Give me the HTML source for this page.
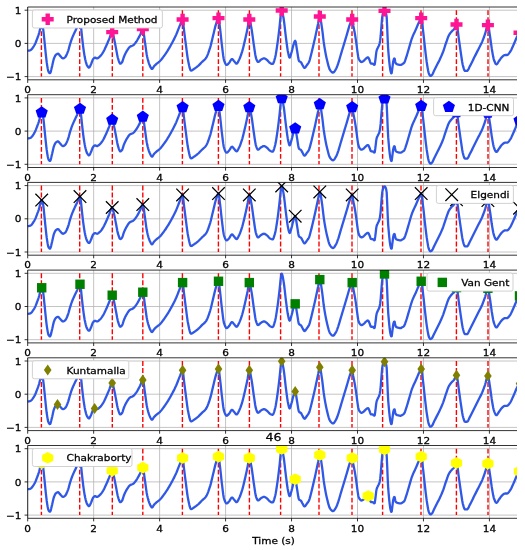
<!DOCTYPE html>
<html><head><meta charset="utf-8"><title>46</title>
<style>html,body{margin:0;padding:0;background:#fff;}svg{display:block;filter:blur(0.35px);}</style>
</head><body>
<svg width="525" height="550" viewBox="0 0 525 550"><defs>
<clipPath id="c0"><rect x="27.70" y="7.00" width="489.30" height="72.80"/></clipPath>
<clipPath id="c1"><rect x="27.70" y="94.70" width="489.30" height="72.80"/></clipPath>
<clipPath id="c2"><rect x="27.70" y="182.40" width="489.30" height="72.80"/></clipPath>
<clipPath id="c3"><rect x="27.70" y="270.10" width="489.30" height="72.80"/></clipPath>
<clipPath id="c4"><rect x="27.70" y="357.80" width="489.30" height="72.80"/></clipPath>
<clipPath id="c5"><rect x="27.70" y="445.50" width="489.30" height="72.80"/></clipPath>
</defs>
<g stroke="#b0b0b0" stroke-width="0.75"><line x1="27.70" y1="7.00" x2="27.70" y2="79.80"/><line x1="93.66" y1="7.00" x2="93.66" y2="79.80"/><line x1="159.62" y1="7.00" x2="159.62" y2="79.80"/><line x1="225.58" y1="7.00" x2="225.58" y2="79.80"/><line x1="291.54" y1="7.00" x2="291.54" y2="79.80"/><line x1="357.50" y1="7.00" x2="357.50" y2="79.80"/><line x1="423.46" y1="7.00" x2="423.46" y2="79.80"/><line x1="489.42" y1="7.00" x2="489.42" y2="79.80"/><line x1="27.70" y1="76.60" x2="517.00" y2="76.60"/><line x1="27.70" y1="43.40" x2="517.00" y2="43.40"/><line x1="27.70" y1="10.20" x2="517.00" y2="10.20"/></g>
<g clip-path="url(#c0)">
<g stroke="#ff0000" stroke-width="1.4" stroke-dasharray="4.9 2.1"><line x1="41.40" y1="10.20" x2="41.40" y2="76.60"/><line x1="79.70" y1="10.20" x2="79.70" y2="76.60"/><line x1="112.30" y1="10.20" x2="112.30" y2="76.60"/><line x1="142.80" y1="10.20" x2="142.80" y2="76.60"/><line x1="182.40" y1="10.20" x2="182.40" y2="76.60"/><line x1="218.40" y1="10.20" x2="218.40" y2="76.60"/><line x1="249.40" y1="10.20" x2="249.40" y2="76.60"/><line x1="280.60" y1="10.20" x2="280.60" y2="76.60"/><line x1="319.00" y1="10.20" x2="319.00" y2="76.60"/><line x1="352.00" y1="10.20" x2="352.00" y2="76.60"/><line x1="382.60" y1="10.20" x2="382.60" y2="76.60"/><line x1="421.00" y1="10.20" x2="421.00" y2="76.60"/><line x1="456.40" y1="10.20" x2="456.40" y2="76.60"/><line x1="488.00" y1="10.20" x2="488.00" y2="76.60"/></g>
<path d="M27.70 50.70 L28.20 50.68 L28.70 50.63 L29.20 50.55 L29.70 50.44 L30.20 50.31 L30.70 50.03 L31.20 49.64 L31.70 49.18 L32.20 48.56 L32.70 47.83 L33.20 47.09 L33.70 46.33 L34.20 45.52 L34.70 44.64 L35.20 43.65 L35.70 42.49 L36.20 41.22 L36.70 39.88 L37.20 38.56 L37.70 37.24 L38.20 35.88 L38.70 34.40 L39.20 32.73 L39.70 30.71 L40.20 28.62 L40.70 26.65 L41.20 24.73 L41.70 24.67 L42.20 25.69 L42.70 27.32 L43.20 29.47 L43.70 33.51 L44.20 38.49 L44.70 43.32 L45.20 48.45 L45.70 53.29 L46.20 57.97 L46.70 62.23 L47.20 65.55 L47.70 68.52 L48.20 70.87 L48.70 72.11 L49.20 72.78 L49.70 73.20 L50.20 73.16 L50.70 72.00 L51.20 70.04 L51.70 67.84 L52.20 65.86 L52.70 63.61 L53.20 61.28 L53.70 59.25 L54.20 57.84 L54.70 56.69 L55.20 55.71 L55.70 54.98 L56.20 54.53 L56.70 54.18 L57.20 53.89 L57.70 53.72 L58.20 53.73 L58.70 54.10 L59.20 54.71 L59.70 55.36 L60.20 55.88 L60.70 56.44 L61.20 57.03 L61.70 57.58 L62.20 58.02 L62.70 58.29 L63.20 58.33 L63.70 58.18 L64.20 57.92 L64.70 57.57 L65.20 57.17 L65.70 56.53 L66.20 55.65 L66.70 54.60 L67.20 53.41 L67.70 52.14 L68.20 50.81 L68.70 49.15 L69.20 47.28 L69.70 45.42 L70.20 43.75 L70.70 42.18 L71.20 40.66 L71.70 39.23 L72.20 37.91 L72.70 36.68 L73.20 35.52 L73.70 34.40 L74.20 33.31 L74.70 32.23 L75.20 31.17 L75.70 30.13 L76.20 29.11 L76.70 28.09 L77.20 27.02 L77.70 25.73 L78.20 24.34 L78.70 23.02 L79.20 21.94 L79.70 21.28 L80.20 21.54 L80.70 24.48 L81.20 28.40 L81.70 33.51 L82.20 38.23 L82.70 42.71 L83.20 46.88 L83.70 50.52 L84.20 53.90 L84.70 56.86 L85.20 59.24 L85.70 61.36 L86.20 63.22 L86.70 64.68 L87.20 65.66 L87.70 66.48 L88.20 67.15 L88.70 67.56 L89.20 67.58 L89.70 67.02 L90.20 66.06 L90.70 64.95 L91.20 63.88 L91.70 62.52 L92.20 61.07 L92.70 59.83 L93.20 59.09 L93.70 58.50 L94.20 58.02 L94.70 57.73 L95.20 57.69 L95.70 57.86 L96.20 58.11 L96.70 58.30 L97.20 58.33 L97.70 58.18 L98.20 57.89 L98.70 57.52 L99.20 57.08 L99.70 56.62 L100.20 56.16 L100.70 55.63 L101.20 55.02 L101.70 54.34 L102.20 53.61 L102.70 52.84 L103.20 52.04 L103.70 51.15 L104.20 50.19 L104.70 49.17 L105.20 48.11 L105.70 47.03 L106.20 45.95 L106.70 44.83 L107.20 43.67 L107.70 42.49 L108.20 41.29 L108.70 40.11 L109.20 38.93 L109.70 37.54 L110.20 36.03 L110.70 34.56 L111.20 33.31 L111.70 32.44 L112.20 32.11 L112.70 32.89 L113.20 34.78 L113.70 37.10 L114.20 39.27 L114.70 41.65 L115.20 44.23 L115.70 46.85 L116.20 49.41 L116.70 52.15 L117.20 54.87 L117.70 57.24 L118.20 58.98 L118.70 60.59 L119.20 62.04 L119.70 63.12 L120.20 63.64 L120.70 63.55 L121.20 63.20 L121.70 62.68 L122.20 62.01 L122.70 60.75 L123.20 59.12 L123.70 57.49 L124.20 56.21 L124.70 55.08 L125.20 54.01 L125.70 53.01 L126.20 52.07 L126.70 51.19 L127.20 50.38 L127.70 49.58 L128.20 48.80 L128.70 48.08 L129.20 47.46 L129.70 46.95 L130.20 46.60 L130.70 46.34 L131.20 46.15 L131.70 45.98 L132.20 45.79 L132.70 45.56 L133.20 45.26 L133.70 44.84 L134.20 44.34 L134.70 43.76 L135.20 43.13 L135.70 42.47 L136.20 41.80 L136.70 41.06 L137.20 40.26 L137.70 39.41 L138.20 38.52 L138.70 37.59 L139.20 36.64 L139.70 35.68 L140.20 34.68 L140.70 33.41 L141.20 31.99 L141.70 30.66 L142.20 29.63 L142.70 29.14 L143.20 29.90 L143.70 32.58 L144.20 36.34 L144.70 40.30 L145.20 43.74 L145.70 47.41 L146.20 51.14 L146.70 54.44 L147.20 56.91 L147.70 59.02 L148.20 60.92 L148.70 62.61 L149.20 64.08 L149.70 65.33 L150.20 66.39 L150.70 67.41 L151.20 68.30 L151.70 68.86 L152.20 68.91 L152.70 68.40 L153.20 67.57 L153.70 66.72 L154.20 66.08 L154.70 65.56 L155.20 65.06 L155.70 64.59 L156.20 64.14 L156.70 63.71 L157.20 63.31 L157.70 62.93 L158.20 62.54 L158.70 62.15 L159.20 61.73 L159.70 61.29 L160.20 60.79 L160.70 60.25 L161.20 59.68 L161.70 59.07 L162.20 58.43 L162.70 57.77 L163.20 57.10 L163.70 56.42 L164.20 55.74 L164.70 55.05 L165.20 54.33 L165.70 53.60 L166.20 52.85 L166.70 52.09 L167.20 51.31 L167.70 50.52 L168.20 49.72 L168.70 48.90 L169.20 48.06 L169.70 47.20 L170.20 46.33 L170.70 45.44 L171.20 44.54 L171.70 43.62 L172.20 42.70 L172.70 41.76 L173.20 40.81 L173.70 39.85 L174.20 38.87 L174.70 37.86 L175.20 36.82 L175.70 35.76 L176.20 34.65 L176.70 33.47 L177.20 32.23 L177.70 30.95 L178.20 29.65 L178.70 28.35 L179.20 27.07 L179.70 25.85 L180.20 24.65 L180.70 23.27 L181.20 21.84 L181.70 20.59 L182.20 19.74 L182.70 19.60 L183.20 22.55 L183.70 27.44 L184.20 31.67 L184.70 35.60 L185.20 39.56 L185.70 43.45 L186.20 47.24 L186.70 51.18 L187.20 55.01 L187.70 58.37 L188.20 60.98 L188.70 63.46 L189.20 65.83 L189.70 67.91 L190.20 69.52 L190.70 70.46 L191.20 70.61 L191.70 70.47 L192.20 70.22 L192.70 69.89 L193.20 69.53 L193.70 69.16 L194.20 68.84 L194.70 68.51 L195.20 68.16 L195.70 67.80 L196.20 67.43 L196.70 67.04 L197.20 66.64 L197.70 66.23 L198.20 65.80 L198.70 65.35 L199.20 64.86 L199.70 64.36 L200.20 63.85 L200.70 63.33 L201.20 62.81 L201.70 62.29 L202.20 61.80 L202.70 61.34 L203.20 60.90 L203.70 60.48 L204.20 60.03 L204.70 59.56 L205.20 59.02 L205.70 58.42 L206.20 57.71 L206.70 56.83 L207.20 55.80 L207.70 54.63 L208.20 53.34 L208.70 51.95 L209.20 50.49 L209.70 48.97 L210.20 47.41 L210.70 45.62 L211.20 43.65 L211.70 41.56 L212.20 39.42 L212.70 37.32 L213.20 35.29 L213.70 33.18 L214.20 31.02 L214.70 28.90 L215.20 26.89 L215.70 25.09 L216.20 23.53 L216.70 21.92 L217.20 20.37 L217.70 19.10 L218.20 18.31 L218.70 18.48 L219.20 21.33 L219.70 25.64 L220.20 29.72 L220.70 34.17 L221.20 38.94 L221.70 43.56 L222.20 47.66 L222.70 51.81 L223.20 55.71 L223.70 58.79 L224.20 60.61 L224.70 62.04 L225.20 63.28 L225.70 64.23 L226.20 64.82 L226.70 64.97 L227.20 64.78 L227.70 64.38 L228.20 63.86 L228.70 63.31 L229.20 62.76 L229.70 62.02 L230.20 61.15 L230.70 60.28 L231.20 59.54 L231.70 59.09 L232.20 59.04 L232.70 59.40 L233.20 60.00 L233.70 60.66 L234.20 61.21 L234.70 61.85 L235.20 62.52 L235.70 63.12 L236.20 63.54 L236.70 63.64 L237.20 63.30 L237.70 62.58 L238.20 61.63 L238.70 60.60 L239.20 59.60 L239.70 58.51 L240.20 57.29 L240.70 55.94 L241.20 54.50 L241.70 52.98 L242.20 51.38 L242.70 49.61 L243.20 47.68 L243.70 45.64 L244.20 43.52 L244.70 41.37 L245.20 39.22 L245.70 37.02 L246.20 34.75 L246.70 32.42 L247.20 30.05 L247.70 27.61 L248.20 24.44 L248.70 21.30 L249.20 19.56 L249.70 20.00 L250.20 21.77 L250.70 24.30 L251.20 27.07 L251.70 29.79 L252.20 33.05 L252.70 36.68 L253.20 40.43 L253.70 44.05 L254.20 47.37 L254.70 50.84 L255.20 54.17 L255.70 56.88 L256.20 58.60 L256.70 60.01 L257.20 61.16 L257.70 61.86 L258.20 61.97 L258.70 61.74 L259.20 61.34 L259.70 60.83 L260.20 60.32 L260.70 59.87 L261.20 59.55 L261.70 59.25 L262.20 58.96 L262.70 58.69 L263.20 58.48 L263.70 58.36 L264.20 58.35 L264.70 58.48 L265.20 58.72 L265.70 59.04 L266.20 59.40 L266.70 59.78 L267.20 60.16 L267.70 60.64 L268.20 61.20 L268.70 61.79 L269.20 62.34 L269.70 62.79 L270.20 63.10 L270.70 63.37 L271.20 63.62 L271.70 63.82 L272.20 63.95 L272.70 63.97 L273.20 63.44 L273.70 62.32 L274.20 60.80 L274.70 59.07 L275.20 57.25 L275.70 54.89 L276.20 52.02 L276.70 48.80 L277.20 45.42 L277.70 41.96 L278.20 38.15 L278.70 34.07 L279.20 29.83 L279.70 25.34 L280.20 20.23 L280.70 15.58 L281.20 12.36 L281.70 10.53 L282.20 11.38 L282.70 13.48 L283.20 16.19 L283.70 18.99 L284.20 22.58 L284.70 26.84 L285.20 31.35 L285.70 35.72 L286.20 39.61 L286.70 43.49 L287.20 47.23 L287.70 50.47 L288.20 52.98 L288.70 55.35 L289.20 57.14 L289.70 57.65 L290.20 56.87 L290.70 55.32 L291.20 53.45 L291.70 51.70 L292.20 49.79 L292.70 47.69 L293.20 45.71 L293.70 44.11 L294.20 42.58 L294.70 41.29 L295.20 40.74 L295.70 41.96 L296.20 44.85 L296.70 48.24 L297.20 51.19 L297.70 54.51 L298.20 57.82 L298.70 60.28 L299.20 61.21 L299.70 61.56 L300.20 61.80 L300.70 62.07 L301.20 62.56 L301.70 63.43 L302.20 64.44 L302.70 65.33 L303.20 66.30 L303.70 67.23 L304.20 67.85 L304.70 67.93 L305.20 67.58 L305.70 66.96 L306.20 66.20 L306.70 65.41 L307.20 64.72 L307.70 64.08 L308.20 63.39 L308.70 62.58 L309.20 61.53 L309.70 60.01 L310.20 58.16 L310.70 56.18 L311.20 54.25 L311.70 52.23 L312.20 50.13 L312.70 48.00 L313.20 45.87 L313.70 43.75 L314.20 41.60 L314.70 39.42 L315.20 37.19 L315.70 34.88 L316.20 32.52 L316.70 30.15 L317.20 27.79 L317.70 25.49 L318.20 23.18 L318.70 20.42 L319.20 17.90 L319.70 16.55 L320.20 17.14 L320.70 19.36 L321.20 22.57 L321.70 26.11 L322.20 29.49 L322.70 33.47 L323.20 37.82 L323.70 41.94 L324.20 45.34 L324.70 48.41 L325.20 51.29 L325.70 53.97 L326.20 56.46 L326.70 58.74 L327.20 60.82 L327.70 62.88 L328.20 64.87 L328.70 66.69 L329.20 68.25 L329.70 69.45 L330.20 70.24 L330.70 70.90 L331.20 71.50 L331.70 72.00 L332.20 72.37 L332.70 72.58 L333.20 72.59 L333.70 72.32 L334.20 71.81 L334.70 71.13 L335.20 70.32 L335.70 69.47 L336.20 68.60 L336.70 67.51 L337.20 66.23 L337.70 64.83 L338.20 63.41 L338.70 61.87 L339.20 60.22 L339.70 58.50 L340.20 56.76 L340.70 55.03 L341.20 53.36 L341.70 51.70 L342.20 50.04 L342.70 48.38 L343.20 46.72 L343.70 45.06 L344.20 43.40 L344.70 41.74 L345.20 40.08 L345.70 38.42 L346.20 36.76 L346.70 35.10 L347.20 33.43 L347.70 31.68 L348.20 29.90 L348.70 28.14 L349.20 26.47 L349.70 24.95 L350.20 23.61 L350.70 22.20 L351.20 20.87 L351.70 19.88 L352.20 19.50 L352.70 22.03 L353.20 25.22 L353.70 27.74 L354.20 30.19 L354.70 32.76 L355.20 35.63 L355.70 38.84 L356.20 42.27 L356.70 45.89 L357.20 49.85 L357.70 53.41 L358.20 56.69 L358.70 58.59 L359.20 59.79 L359.70 60.64 L360.20 61.19 L360.70 61.64 L361.20 61.94 L361.70 61.98 L362.20 61.82 L362.70 61.54 L363.20 61.20 L363.70 60.85 L364.20 60.37 L364.70 59.81 L365.20 59.27 L365.70 58.84 L366.20 58.40 L366.70 57.96 L367.20 57.61 L367.70 57.38 L368.20 57.43 L368.70 58.18 L369.20 59.33 L369.70 60.49 L370.20 62.05 L370.70 63.37 L371.20 63.65 L371.70 63.65 L372.20 63.65 L372.70 63.69 L373.20 64.03 L373.70 64.51 L374.20 64.90 L374.70 64.58 L375.20 61.30 L375.70 57.42 L376.20 52.90 L376.70 50.33 L377.20 49.03 L377.70 48.02 L378.20 46.95 L378.70 46.02 L379.20 44.95 L379.70 43.24 L380.20 40.14 L380.70 35.72 L381.20 28.97 L381.70 22.80 L382.20 17.19 L382.70 14.44 L383.20 12.83 L383.70 11.65 L384.20 10.98 L384.70 10.91 L385.20 11.39 L385.70 12.40 L386.20 13.97 L386.70 17.22 L387.20 27.92 L387.70 40.12 L388.20 49.70 L388.70 55.56 L389.20 61.11 L389.70 65.67 L390.20 69.42 L390.70 71.72 L391.20 73.28 L391.70 73.14 L392.20 69.41 L392.70 65.46 L393.20 61.47 L393.70 59.48 L394.20 58.53 L394.70 58.77 L395.20 61.74 L395.70 63.28 L396.20 63.79 L396.70 64.08 L397.20 64.29 L397.70 64.45 L398.20 64.58 L398.70 64.69 L399.20 64.81 L399.70 64.91 L400.20 64.97 L400.70 64.96 L401.20 64.79 L401.70 64.50 L402.20 64.17 L402.70 63.87 L403.20 63.60 L403.70 63.26 L404.20 62.73 L404.70 61.73 L405.20 60.38 L405.70 58.88 L406.20 57.43 L406.70 55.89 L407.20 54.24 L407.70 52.52 L408.20 50.78 L408.70 49.06 L409.20 47.38 L409.70 45.65 L410.20 43.89 L410.70 42.15 L411.20 40.48 L411.70 38.93 L412.20 37.56 L412.70 36.30 L413.20 35.14 L413.70 34.04 L414.20 32.98 L414.70 31.93 L415.20 30.88 L415.70 29.80 L416.20 28.66 L416.70 27.48 L417.20 26.27 L417.70 25.06 L418.20 23.89 L418.70 22.78 L419.20 21.72 L419.70 20.54 L420.20 19.39 L420.70 18.51 L421.20 18.17 L421.70 19.66 L422.20 23.26 L422.70 27.65 L423.20 31.70 L423.70 36.08 L424.20 40.77 L424.70 45.42 L425.20 49.75 L425.70 54.06 L426.20 58.23 L426.70 62.01 L427.20 65.22 L427.70 68.28 L428.20 71.03 L428.70 73.13 L429.20 74.35 L429.70 75.25 L430.20 75.83 L430.70 75.91 L431.20 75.66 L431.70 75.23 L432.20 74.71 L432.70 73.85 L433.20 72.75 L433.70 71.59 L434.20 70.56 L434.70 69.56 L435.20 68.57 L435.70 67.57 L436.20 66.57 L436.70 65.58 L437.20 64.58 L437.70 63.60 L438.20 62.63 L438.70 61.66 L439.20 60.66 L439.70 59.64 L440.20 58.57 L440.70 57.49 L441.20 56.38 L441.70 55.23 L442.20 54.04 L442.70 52.80 L443.20 51.50 L443.70 50.07 L444.20 48.56 L444.70 47.00 L445.20 45.44 L445.70 43.93 L446.20 42.50 L446.70 41.03 L447.20 39.56 L447.70 38.13 L448.20 36.82 L448.70 35.68 L449.20 34.75 L449.70 33.96 L450.20 33.26 L450.70 32.62 L451.20 32.02 L451.70 31.45 L452.20 30.90 L452.70 30.43 L453.20 29.98 L453.70 29.48 L454.20 28.82 L454.70 27.77 L455.20 26.52 L455.70 25.38 L456.20 24.62 L456.70 24.66 L457.20 26.53 L457.70 29.83 L458.20 33.87 L458.70 37.93 L459.20 41.42 L459.70 44.94 L460.20 48.53 L460.70 52.03 L461.20 55.34 L461.70 58.74 L462.20 61.99 L462.70 64.73 L463.20 66.68 L463.70 68.42 L464.20 69.88 L464.70 70.79 L465.20 70.96 L465.70 70.96 L466.20 70.96 L466.70 70.96 L467.20 70.91 L467.70 70.49 L468.20 69.72 L468.70 68.72 L469.20 67.63 L469.70 66.55 L470.20 65.61 L470.70 64.67 L471.20 63.70 L471.70 62.70 L472.20 61.68 L472.70 60.65 L473.20 59.63 L473.70 58.61 L474.20 57.61 L474.70 56.61 L475.20 55.62 L475.70 54.62 L476.20 53.63 L476.70 52.63 L477.20 51.63 L477.70 50.64 L478.20 49.64 L478.70 48.68 L479.20 47.73 L479.70 46.78 L480.20 45.82 L480.70 44.84 L481.20 43.82 L481.70 42.75 L482.20 41.61 L482.70 40.39 L483.20 39.10 L483.70 37.76 L484.20 36.37 L484.70 34.96 L485.20 33.49 L485.70 31.64 L486.20 29.59 L486.70 27.64 L487.20 26.09 L487.70 25.23 L488.20 25.53 L488.70 27.57 L489.20 30.71 L489.70 34.17 L490.20 37.35 L490.70 40.87 L491.20 44.61 L491.70 48.16 L492.20 51.21 L492.70 54.14 L493.20 56.84 L493.70 59.04 L494.20 60.54 L494.70 61.83 L495.20 62.96 L495.70 63.82 L496.20 64.27 L496.70 64.23 L497.20 63.79 L497.70 63.08 L498.20 62.24 L498.70 61.42 L499.20 60.73 L499.70 60.02 L500.20 59.29 L500.70 58.56 L501.20 57.89 L501.70 57.30 L502.20 56.83 L502.70 56.37 L503.20 55.93 L503.70 55.54 L504.20 55.23 L504.70 55.05 L505.20 55.02 L505.70 55.02 L506.20 55.02 L506.70 55.02 L507.20 55.00 L507.70 54.77 L508.20 54.35 L508.70 53.78 L509.20 53.13 L509.70 52.44 L510.20 51.75 L510.70 50.93 L511.20 49.98 L511.70 48.93 L512.20 47.82 L512.70 46.71 L513.20 45.62 L513.70 44.48 L514.20 43.30 L514.70 42.11 L515.20 40.94 L515.70 39.71 L516.20 38.50 L516.70 37.37 L517.20 36.38 L517.70 35.47 L518.20 34.63 L518.70 33.85 L519.20 33.15" fill="none" stroke="#3058e6" stroke-width="2.3" stroke-linejoin="round" stroke-linecap="round"/>
<path d="M110.00 26.36 L114.40 26.36 L114.40 29.91 L118.20 29.91 L118.20 34.31 L114.40 34.31 L114.40 37.86 L110.00 37.86 L110.00 34.31 L106.20 34.31 L106.20 29.91 L110.00 29.91 Z" fill="#ff1493"/>
<path d="M140.60 23.37 L145.00 23.37 L145.00 26.92 L148.80 26.92 L148.80 31.32 L145.00 31.32 L145.00 34.87 L140.60 34.87 L140.60 31.32 L136.80 31.32 L136.80 26.92 L140.60 26.92 Z" fill="#ff1493"/>
<path d="M180.40 13.75 L184.80 13.75 L184.80 17.30 L188.60 17.30 L188.60 21.70 L184.80 21.70 L184.80 25.25 L180.40 25.25 L180.40 21.70 L176.60 21.70 L176.60 17.30 L180.40 17.30 Z" fill="#ff1493"/>
<path d="M216.30 12.42 L220.70 12.42 L220.70 15.97 L224.50 15.97 L224.50 20.37 L220.70 20.37 L220.70 23.92 L216.30 23.92 L216.30 20.37 L212.50 20.37 L212.50 15.97 L216.30 15.97 Z" fill="#ff1493"/>
<path d="M247.10 13.75 L251.50 13.75 L251.50 17.30 L255.30 17.30 L255.30 21.70 L251.50 21.70 L251.50 25.25 L247.10 25.25 L247.10 21.70 L243.30 21.70 L243.30 17.30 L247.10 17.30 Z" fill="#ff1493"/>
<path d="M279.50 4.78 L283.90 4.78 L283.90 8.33 L287.70 8.33 L287.70 12.73 L283.90 12.73 L283.90 16.28 L279.50 16.28 L279.50 12.73 L275.70 12.73 L275.70 8.33 L279.50 8.33 Z" fill="#ff1493"/>
<path d="M317.60 10.76 L322.00 10.76 L322.00 14.31 L325.80 14.31 L325.80 18.71 L322.00 18.71 L322.00 22.26 L317.60 22.26 L317.60 18.71 L313.80 18.71 L313.80 14.31 L317.60 14.31 Z" fill="#ff1493"/>
<path d="M350.00 13.75 L354.40 13.75 L354.40 17.30 L358.20 17.30 L358.20 21.70 L354.40 21.70 L354.40 25.25 L350.00 25.25 L350.00 21.70 L346.20 21.70 L346.20 17.30 L350.00 17.30 Z" fill="#ff1493"/>
<path d="M382.30 5.11 L386.70 5.11 L386.70 8.66 L390.50 8.66 L390.50 13.06 L386.70 13.06 L386.70 16.61 L382.30 16.61 L382.30 13.06 L378.50 13.06 L378.50 8.66 L382.30 8.66 Z" fill="#ff1493"/>
<path d="M419.00 12.42 L423.40 12.42 L423.40 15.97 L427.20 15.97 L427.20 20.37 L423.40 20.37 L423.40 23.92 L419.00 23.92 L419.00 20.37 L415.20 20.37 L415.20 15.97 L419.00 15.97 Z" fill="#ff1493"/>
<path d="M454.30 18.73 L458.70 18.73 L458.70 22.28 L462.50 22.28 L462.50 26.68 L458.70 26.68 L458.70 30.23 L454.30 30.23 L454.30 26.68 L450.50 26.68 L450.50 22.28 L454.30 22.28 Z" fill="#ff1493"/>
<path d="M485.70 19.39 L490.10 19.39 L490.10 22.94 L493.90 22.94 L493.90 27.34 L490.10 27.34 L490.10 30.89 L485.70 30.89 L485.70 27.34 L481.90 27.34 L481.90 22.94 L485.70 22.94 Z" fill="#ff1493"/>
<path d="M517.30 27.03 L521.70 27.03 L521.70 30.58 L525.50 30.58 L525.50 34.98 L521.70 34.98 L521.70 38.53 L517.30 38.53 L517.30 34.98 L513.50 34.98 L513.50 30.58 L517.30 30.58 Z" fill="#ff1493"/>
</g>
<g stroke="#000" stroke-width="0.8" fill="none">
<path d="M27.70 7.00 L517.00 7.00 M27.70 7.00 L27.70 79.80 L517.00 79.80"/>
<path d="M24.60 76.60 L27.70 76.60 M24.60 43.40 L27.70 43.40 M24.60 10.20 L27.70 10.20 M27.70 79.80 L27.70 82.90 M93.66 79.80 L93.66 82.90 M159.62 79.80 L159.62 82.90 M225.58 79.80 L225.58 82.90 M291.54 79.80 L291.54 82.90 M357.50 79.80 L357.50 82.90 M423.46 79.80 L423.46 82.90 M489.42 79.80 L489.42 82.90"/>
</g>
<g style="font-family:'DejaVu Sans',sans-serif" fill="#000" stroke="#000" stroke-width="0.3"><text transform="translate(21.40 80.20) scale(1 0.880)" text-anchor="end" style="font-size:10.50px">−1</text><text transform="translate(21.40 47.00) scale(1 0.880)" text-anchor="end" style="font-size:10.50px">0</text><text transform="translate(21.40 13.80) scale(1 0.880)" text-anchor="end" style="font-size:10.50px">1</text><text transform="translate(27.70 93.00) scale(1 0.880)" text-anchor="middle" style="font-size:10.50px">0</text><text transform="translate(93.66 93.00) scale(1 0.880)" text-anchor="middle" style="font-size:10.50px">2</text><text transform="translate(159.62 93.00) scale(1 0.880)" text-anchor="middle" style="font-size:10.50px">4</text><text transform="translate(225.58 93.00) scale(1 0.880)" text-anchor="middle" style="font-size:10.50px">6</text><text transform="translate(291.54 93.00) scale(1 0.880)" text-anchor="middle" style="font-size:10.50px">8</text><text transform="translate(357.50 93.00) scale(1 0.880)" text-anchor="middle" style="font-size:10.50px">10</text><text transform="translate(423.46 93.00) scale(1 0.880)" text-anchor="middle" style="font-size:10.50px">12</text><text transform="translate(489.42 93.00) scale(1 0.880)" text-anchor="middle" style="font-size:10.50px">14</text></g>
<rect x="32.40" y="10.00" width="130.00" height="18.00" rx="2" ry="2" fill="#fff" stroke="#cccccc" stroke-width="0.9"/>
<path d="M45.50 13.55 L49.90 13.55 L49.90 17.10 L53.70 17.10 L53.70 21.50 L49.90 21.50 L49.90 25.05 L45.50 25.05 L45.50 21.50 L41.70 21.50 L41.70 17.10 L45.50 17.10 Z" fill="#ff1493"/>
<g style="font-family:'DejaVu Sans',sans-serif" fill="#000" stroke="#000" stroke-width="0.3"><text transform="translate(66.60 22.90) scale(1 0.880)" style="font-size:10.50px">Proposed Method</text></g>
<g stroke="#b0b0b0" stroke-width="0.75"><line x1="27.70" y1="94.70" x2="27.70" y2="167.50"/><line x1="93.66" y1="94.70" x2="93.66" y2="167.50"/><line x1="159.62" y1="94.70" x2="159.62" y2="167.50"/><line x1="225.58" y1="94.70" x2="225.58" y2="167.50"/><line x1="291.54" y1="94.70" x2="291.54" y2="167.50"/><line x1="357.50" y1="94.70" x2="357.50" y2="167.50"/><line x1="423.46" y1="94.70" x2="423.46" y2="167.50"/><line x1="489.42" y1="94.70" x2="489.42" y2="167.50"/><line x1="27.70" y1="164.30" x2="517.00" y2="164.30"/><line x1="27.70" y1="131.10" x2="517.00" y2="131.10"/><line x1="27.70" y1="97.90" x2="517.00" y2="97.90"/></g>
<g clip-path="url(#c1)">
<g stroke="#ff0000" stroke-width="1.4" stroke-dasharray="4.9 2.1"><line x1="41.40" y1="97.90" x2="41.40" y2="164.30"/><line x1="79.70" y1="97.90" x2="79.70" y2="164.30"/><line x1="112.30" y1="97.90" x2="112.30" y2="164.30"/><line x1="142.80" y1="97.90" x2="142.80" y2="164.30"/><line x1="182.40" y1="97.90" x2="182.40" y2="164.30"/><line x1="218.40" y1="97.90" x2="218.40" y2="164.30"/><line x1="249.40" y1="97.90" x2="249.40" y2="164.30"/><line x1="280.60" y1="97.90" x2="280.60" y2="164.30"/><line x1="319.00" y1="97.90" x2="319.00" y2="164.30"/><line x1="352.00" y1="97.90" x2="352.00" y2="164.30"/><line x1="382.60" y1="97.90" x2="382.60" y2="164.30"/><line x1="421.00" y1="97.90" x2="421.00" y2="164.30"/><line x1="456.40" y1="97.90" x2="456.40" y2="164.30"/><line x1="488.00" y1="97.90" x2="488.00" y2="164.30"/></g>
<path d="M27.70 138.40 L28.20 138.38 L28.70 138.33 L29.20 138.25 L29.70 138.14 L30.20 138.01 L30.70 137.73 L31.20 137.34 L31.70 136.88 L32.20 136.26 L32.70 135.53 L33.20 134.79 L33.70 134.03 L34.20 133.22 L34.70 132.34 L35.20 131.35 L35.70 130.19 L36.20 128.92 L36.70 127.58 L37.20 126.26 L37.70 124.94 L38.20 123.58 L38.70 122.10 L39.20 120.43 L39.70 118.41 L40.20 116.32 L40.70 114.35 L41.20 112.43 L41.70 112.37 L42.20 113.39 L42.70 115.02 L43.20 117.17 L43.70 121.21 L44.20 126.19 L44.70 131.02 L45.20 136.15 L45.70 140.99 L46.20 145.67 L46.70 149.93 L47.20 153.25 L47.70 156.22 L48.20 158.57 L48.70 159.81 L49.20 160.48 L49.70 160.90 L50.20 160.86 L50.70 159.70 L51.20 157.74 L51.70 155.54 L52.20 153.56 L52.70 151.31 L53.20 148.98 L53.70 146.95 L54.20 145.54 L54.70 144.39 L55.20 143.41 L55.70 142.68 L56.20 142.23 L56.70 141.88 L57.20 141.59 L57.70 141.42 L58.20 141.43 L58.70 141.80 L59.20 142.41 L59.70 143.06 L60.20 143.58 L60.70 144.14 L61.20 144.73 L61.70 145.28 L62.20 145.72 L62.70 145.99 L63.20 146.03 L63.70 145.88 L64.20 145.62 L64.70 145.27 L65.20 144.87 L65.70 144.23 L66.20 143.35 L66.70 142.30 L67.20 141.11 L67.70 139.84 L68.20 138.51 L68.70 136.85 L69.20 134.98 L69.70 133.12 L70.20 131.45 L70.70 129.88 L71.20 128.36 L71.70 126.93 L72.20 125.61 L72.70 124.38 L73.20 123.22 L73.70 122.10 L74.20 121.01 L74.70 119.93 L75.20 118.87 L75.70 117.83 L76.20 116.81 L76.70 115.79 L77.20 114.72 L77.70 113.43 L78.20 112.04 L78.70 110.72 L79.20 109.64 L79.70 108.98 L80.20 109.24 L80.70 112.18 L81.20 116.10 L81.70 121.21 L82.20 125.93 L82.70 130.41 L83.20 134.58 L83.70 138.22 L84.20 141.60 L84.70 144.56 L85.20 146.94 L85.70 149.06 L86.20 150.92 L86.70 152.38 L87.20 153.36 L87.70 154.18 L88.20 154.85 L88.70 155.26 L89.20 155.28 L89.70 154.72 L90.20 153.76 L90.70 152.65 L91.20 151.58 L91.70 150.22 L92.20 148.77 L92.70 147.53 L93.20 146.79 L93.70 146.20 L94.20 145.72 L94.70 145.43 L95.20 145.39 L95.70 145.56 L96.20 145.81 L96.70 146.00 L97.20 146.03 L97.70 145.88 L98.20 145.59 L98.70 145.22 L99.20 144.78 L99.70 144.32 L100.20 143.86 L100.70 143.33 L101.20 142.72 L101.70 142.04 L102.20 141.31 L102.70 140.54 L103.20 139.74 L103.70 138.85 L104.20 137.89 L104.70 136.87 L105.20 135.81 L105.70 134.73 L106.20 133.65 L106.70 132.53 L107.20 131.37 L107.70 130.19 L108.20 128.99 L108.70 127.81 L109.20 126.63 L109.70 125.24 L110.20 123.73 L110.70 122.26 L111.20 121.01 L111.70 120.14 L112.20 119.81 L112.70 120.59 L113.20 122.48 L113.70 124.80 L114.20 126.97 L114.70 129.35 L115.20 131.93 L115.70 134.55 L116.20 137.11 L116.70 139.85 L117.20 142.57 L117.70 144.94 L118.20 146.68 L118.70 148.29 L119.20 149.74 L119.70 150.82 L120.20 151.34 L120.70 151.25 L121.20 150.90 L121.70 150.38 L122.20 149.71 L122.70 148.45 L123.20 146.82 L123.70 145.19 L124.20 143.91 L124.70 142.78 L125.20 141.71 L125.70 140.71 L126.20 139.77 L126.70 138.89 L127.20 138.08 L127.70 137.28 L128.20 136.50 L128.70 135.78 L129.20 135.16 L129.70 134.65 L130.20 134.30 L130.70 134.04 L131.20 133.85 L131.70 133.68 L132.20 133.49 L132.70 133.26 L133.20 132.96 L133.70 132.54 L134.20 132.04 L134.70 131.46 L135.20 130.83 L135.70 130.17 L136.20 129.50 L136.70 128.76 L137.20 127.96 L137.70 127.11 L138.20 126.22 L138.70 125.29 L139.20 124.34 L139.70 123.38 L140.20 122.38 L140.70 121.11 L141.20 119.69 L141.70 118.36 L142.20 117.33 L142.70 116.84 L143.20 117.60 L143.70 120.28 L144.20 124.04 L144.70 128.00 L145.20 131.44 L145.70 135.11 L146.20 138.84 L146.70 142.14 L147.20 144.61 L147.70 146.72 L148.20 148.62 L148.70 150.31 L149.20 151.78 L149.70 153.03 L150.20 154.09 L150.70 155.11 L151.20 156.00 L151.70 156.56 L152.20 156.61 L152.70 156.10 L153.20 155.27 L153.70 154.42 L154.20 153.78 L154.70 153.26 L155.20 152.76 L155.70 152.29 L156.20 151.84 L156.70 151.41 L157.20 151.01 L157.70 150.63 L158.20 150.24 L158.70 149.85 L159.20 149.43 L159.70 148.99 L160.20 148.49 L160.70 147.95 L161.20 147.38 L161.70 146.77 L162.20 146.13 L162.70 145.47 L163.20 144.80 L163.70 144.12 L164.20 143.44 L164.70 142.75 L165.20 142.03 L165.70 141.30 L166.20 140.55 L166.70 139.79 L167.20 139.01 L167.70 138.22 L168.20 137.42 L168.70 136.60 L169.20 135.76 L169.70 134.90 L170.20 134.03 L170.70 133.14 L171.20 132.24 L171.70 131.32 L172.20 130.40 L172.70 129.46 L173.20 128.51 L173.70 127.55 L174.20 126.57 L174.70 125.56 L175.20 124.52 L175.70 123.46 L176.20 122.35 L176.70 121.17 L177.20 119.93 L177.70 118.65 L178.20 117.35 L178.70 116.05 L179.20 114.77 L179.70 113.55 L180.20 112.35 L180.70 110.97 L181.20 109.54 L181.70 108.29 L182.20 107.44 L182.70 107.30 L183.20 110.25 L183.70 115.14 L184.20 119.37 L184.70 123.30 L185.20 127.26 L185.70 131.15 L186.20 134.94 L186.70 138.88 L187.20 142.71 L187.70 146.07 L188.20 148.68 L188.70 151.16 L189.20 153.53 L189.70 155.61 L190.20 157.22 L190.70 158.16 L191.20 158.31 L191.70 158.17 L192.20 157.92 L192.70 157.59 L193.20 157.23 L193.70 156.86 L194.20 156.54 L194.70 156.21 L195.20 155.86 L195.70 155.50 L196.20 155.13 L196.70 154.74 L197.20 154.34 L197.70 153.93 L198.20 153.50 L198.70 153.05 L199.20 152.56 L199.70 152.06 L200.20 151.55 L200.70 151.03 L201.20 150.51 L201.70 149.99 L202.20 149.50 L202.70 149.04 L203.20 148.60 L203.70 148.18 L204.20 147.73 L204.70 147.26 L205.20 146.72 L205.70 146.12 L206.20 145.41 L206.70 144.53 L207.20 143.50 L207.70 142.33 L208.20 141.04 L208.70 139.65 L209.20 138.19 L209.70 136.67 L210.20 135.11 L210.70 133.32 L211.20 131.35 L211.70 129.26 L212.20 127.12 L212.70 125.02 L213.20 122.99 L213.70 120.88 L214.20 118.72 L214.70 116.60 L215.20 114.59 L215.70 112.79 L216.20 111.23 L216.70 109.62 L217.20 108.07 L217.70 106.80 L218.20 106.01 L218.70 106.18 L219.20 109.03 L219.70 113.34 L220.20 117.42 L220.70 121.87 L221.20 126.64 L221.70 131.26 L222.20 135.36 L222.70 139.51 L223.20 143.41 L223.70 146.49 L224.20 148.31 L224.70 149.74 L225.20 150.98 L225.70 151.93 L226.20 152.52 L226.70 152.67 L227.20 152.48 L227.70 152.08 L228.20 151.56 L228.70 151.01 L229.20 150.46 L229.70 149.72 L230.20 148.85 L230.70 147.98 L231.20 147.24 L231.70 146.79 L232.20 146.74 L232.70 147.10 L233.20 147.70 L233.70 148.36 L234.20 148.91 L234.70 149.55 L235.20 150.22 L235.70 150.82 L236.20 151.24 L236.70 151.34 L237.20 151.00 L237.70 150.28 L238.20 149.33 L238.70 148.30 L239.20 147.30 L239.70 146.21 L240.20 144.99 L240.70 143.64 L241.20 142.20 L241.70 140.68 L242.20 139.08 L242.70 137.31 L243.20 135.38 L243.70 133.34 L244.20 131.22 L244.70 129.07 L245.20 126.92 L245.70 124.72 L246.20 122.45 L246.70 120.12 L247.20 117.75 L247.70 115.31 L248.20 112.14 L248.70 109.00 L249.20 107.26 L249.70 107.70 L250.20 109.47 L250.70 112.00 L251.20 114.77 L251.70 117.49 L252.20 120.75 L252.70 124.38 L253.20 128.13 L253.70 131.75 L254.20 135.07 L254.70 138.54 L255.20 141.87 L255.70 144.58 L256.20 146.30 L256.70 147.71 L257.20 148.86 L257.70 149.56 L258.20 149.67 L258.70 149.44 L259.20 149.04 L259.70 148.53 L260.20 148.02 L260.70 147.57 L261.20 147.25 L261.70 146.95 L262.20 146.66 L262.70 146.39 L263.20 146.18 L263.70 146.06 L264.20 146.05 L264.70 146.18 L265.20 146.42 L265.70 146.74 L266.20 147.10 L266.70 147.48 L267.20 147.86 L267.70 148.34 L268.20 148.90 L268.70 149.49 L269.20 150.04 L269.70 150.49 L270.20 150.80 L270.70 151.07 L271.20 151.32 L271.70 151.52 L272.20 151.65 L272.70 151.67 L273.20 151.14 L273.70 150.02 L274.20 148.50 L274.70 146.77 L275.20 144.95 L275.70 142.59 L276.20 139.72 L276.70 136.50 L277.20 133.12 L277.70 129.66 L278.20 125.85 L278.70 121.77 L279.20 117.53 L279.70 113.04 L280.20 107.93 L280.70 103.28 L281.20 100.06 L281.70 98.23 L282.20 99.08 L282.70 101.18 L283.20 103.89 L283.70 106.69 L284.20 110.28 L284.70 114.54 L285.20 119.05 L285.70 123.42 L286.20 127.31 L286.70 131.19 L287.20 134.93 L287.70 138.17 L288.20 140.68 L288.70 143.05 L289.20 144.84 L289.70 145.35 L290.20 144.57 L290.70 143.02 L291.20 141.15 L291.70 139.40 L292.20 137.49 L292.70 135.39 L293.20 133.41 L293.70 131.81 L294.20 130.28 L294.70 128.99 L295.20 128.44 L295.70 129.66 L296.20 132.55 L296.70 135.94 L297.20 138.89 L297.70 142.21 L298.20 145.52 L298.70 147.98 L299.20 148.91 L299.70 149.26 L300.20 149.50 L300.70 149.77 L301.20 150.26 L301.70 151.13 L302.20 152.14 L302.70 153.03 L303.20 154.00 L303.70 154.93 L304.20 155.55 L304.70 155.63 L305.20 155.28 L305.70 154.66 L306.20 153.90 L306.70 153.11 L307.20 152.42 L307.70 151.78 L308.20 151.09 L308.70 150.28 L309.20 149.23 L309.70 147.71 L310.20 145.86 L310.70 143.88 L311.20 141.95 L311.70 139.93 L312.20 137.83 L312.70 135.70 L313.20 133.57 L313.70 131.45 L314.20 129.30 L314.70 127.12 L315.20 124.89 L315.70 122.58 L316.20 120.22 L316.70 117.85 L317.20 115.49 L317.70 113.19 L318.20 110.88 L318.70 108.12 L319.20 105.60 L319.70 104.25 L320.20 104.84 L320.70 107.06 L321.20 110.27 L321.70 113.81 L322.20 117.19 L322.70 121.17 L323.20 125.52 L323.70 129.64 L324.20 133.04 L324.70 136.11 L325.20 138.99 L325.70 141.67 L326.20 144.16 L326.70 146.44 L327.20 148.52 L327.70 150.58 L328.20 152.57 L328.70 154.39 L329.20 155.95 L329.70 157.15 L330.20 157.94 L330.70 158.60 L331.20 159.20 L331.70 159.70 L332.20 160.07 L332.70 160.28 L333.20 160.29 L333.70 160.02 L334.20 159.51 L334.70 158.83 L335.20 158.02 L335.70 157.17 L336.20 156.30 L336.70 155.21 L337.20 153.93 L337.70 152.53 L338.20 151.11 L338.70 149.57 L339.20 147.92 L339.70 146.20 L340.20 144.46 L340.70 142.73 L341.20 141.06 L341.70 139.40 L342.20 137.74 L342.70 136.08 L343.20 134.42 L343.70 132.76 L344.20 131.10 L344.70 129.44 L345.20 127.78 L345.70 126.12 L346.20 124.46 L346.70 122.80 L347.20 121.13 L347.70 119.38 L348.20 117.60 L348.70 115.84 L349.20 114.17 L349.70 112.65 L350.20 111.31 L350.70 109.90 L351.20 108.57 L351.70 107.58 L352.20 107.20 L352.70 109.73 L353.20 112.92 L353.70 115.44 L354.20 117.89 L354.70 120.46 L355.20 123.33 L355.70 126.54 L356.20 129.97 L356.70 133.59 L357.20 137.55 L357.70 141.11 L358.20 144.39 L358.70 146.29 L359.20 147.49 L359.70 148.34 L360.20 148.89 L360.70 149.34 L361.20 149.64 L361.70 149.68 L362.20 149.52 L362.70 149.24 L363.20 148.90 L363.70 148.55 L364.20 148.07 L364.70 147.51 L365.20 146.97 L365.70 146.54 L366.20 146.10 L366.70 145.66 L367.20 145.31 L367.70 145.08 L368.20 145.13 L368.70 145.88 L369.20 147.03 L369.70 148.19 L370.20 149.75 L370.70 151.07 L371.20 151.35 L371.70 151.35 L372.20 151.35 L372.70 151.39 L373.20 151.73 L373.70 152.21 L374.20 152.60 L374.70 152.28 L375.20 149.00 L375.70 145.12 L376.20 140.60 L376.70 138.03 L377.20 136.73 L377.70 135.72 L378.20 134.65 L378.70 133.72 L379.20 132.65 L379.70 130.94 L380.20 127.84 L380.70 123.42 L381.20 116.67 L381.70 110.50 L382.20 104.89 L382.70 102.14 L383.20 100.53 L383.70 99.35 L384.20 98.68 L384.70 98.61 L385.20 99.09 L385.70 100.10 L386.20 101.67 L386.70 104.92 L387.20 115.62 L387.70 127.82 L388.20 137.40 L388.70 143.26 L389.20 148.81 L389.70 153.37 L390.20 157.12 L390.70 159.42 L391.20 160.98 L391.70 160.84 L392.20 157.11 L392.70 153.16 L393.20 149.17 L393.70 147.18 L394.20 146.23 L394.70 146.47 L395.20 149.44 L395.70 150.98 L396.20 151.49 L396.70 151.78 L397.20 151.99 L397.70 152.15 L398.20 152.28 L398.70 152.39 L399.20 152.51 L399.70 152.61 L400.20 152.67 L400.70 152.66 L401.20 152.49 L401.70 152.20 L402.20 151.87 L402.70 151.57 L403.20 151.30 L403.70 150.96 L404.20 150.43 L404.70 149.43 L405.20 148.08 L405.70 146.58 L406.20 145.13 L406.70 143.59 L407.20 141.94 L407.70 140.22 L408.20 138.48 L408.70 136.76 L409.20 135.08 L409.70 133.35 L410.20 131.59 L410.70 129.85 L411.20 128.18 L411.70 126.63 L412.20 125.26 L412.70 124.00 L413.20 122.84 L413.70 121.74 L414.20 120.68 L414.70 119.63 L415.20 118.58 L415.70 117.50 L416.20 116.36 L416.70 115.18 L417.20 113.97 L417.70 112.76 L418.20 111.59 L418.70 110.48 L419.20 109.42 L419.70 108.24 L420.20 107.09 L420.70 106.21 L421.20 105.87 L421.70 107.36 L422.20 110.96 L422.70 115.35 L423.20 119.40 L423.70 123.78 L424.20 128.47 L424.70 133.12 L425.20 137.45 L425.70 141.76 L426.20 145.93 L426.70 149.71 L427.20 152.92 L427.70 155.98 L428.20 158.73 L428.70 160.83 L429.20 162.05 L429.70 162.95 L430.20 163.53 L430.70 163.61 L431.20 163.36 L431.70 162.93 L432.20 162.41 L432.70 161.55 L433.20 160.45 L433.70 159.29 L434.20 158.26 L434.70 157.26 L435.20 156.27 L435.70 155.27 L436.20 154.27 L436.70 153.28 L437.20 152.28 L437.70 151.30 L438.20 150.33 L438.70 149.36 L439.20 148.36 L439.70 147.34 L440.20 146.27 L440.70 145.19 L441.20 144.08 L441.70 142.93 L442.20 141.74 L442.70 140.50 L443.20 139.20 L443.70 137.77 L444.20 136.26 L444.70 134.70 L445.20 133.14 L445.70 131.63 L446.20 130.20 L446.70 128.73 L447.20 127.26 L447.70 125.83 L448.20 124.52 L448.70 123.38 L449.20 122.45 L449.70 121.66 L450.20 120.96 L450.70 120.32 L451.20 119.72 L451.70 119.15 L452.20 118.60 L452.70 118.13 L453.20 117.68 L453.70 117.18 L454.20 116.52 L454.70 115.47 L455.20 114.22 L455.70 113.08 L456.20 112.32 L456.70 112.36 L457.20 114.23 L457.70 117.53 L458.20 121.57 L458.70 125.63 L459.20 129.12 L459.70 132.64 L460.20 136.23 L460.70 139.73 L461.20 143.04 L461.70 146.44 L462.20 149.69 L462.70 152.43 L463.20 154.38 L463.70 156.12 L464.20 157.58 L464.70 158.49 L465.20 158.66 L465.70 158.66 L466.20 158.66 L466.70 158.66 L467.20 158.61 L467.70 158.19 L468.20 157.42 L468.70 156.42 L469.20 155.33 L469.70 154.25 L470.20 153.31 L470.70 152.37 L471.20 151.40 L471.70 150.40 L472.20 149.38 L472.70 148.35 L473.20 147.33 L473.70 146.31 L474.20 145.31 L474.70 144.31 L475.20 143.32 L475.70 142.32 L476.20 141.33 L476.70 140.33 L477.20 139.33 L477.70 138.34 L478.20 137.34 L478.70 136.38 L479.20 135.43 L479.70 134.48 L480.20 133.52 L480.70 132.54 L481.20 131.52 L481.70 130.45 L482.20 129.31 L482.70 128.09 L483.20 126.80 L483.70 125.46 L484.20 124.07 L484.70 122.66 L485.20 121.19 L485.70 119.34 L486.20 117.29 L486.70 115.34 L487.20 113.79 L487.70 112.93 L488.20 113.23 L488.70 115.27 L489.20 118.41 L489.70 121.87 L490.20 125.05 L490.70 128.57 L491.20 132.31 L491.70 135.86 L492.20 138.91 L492.70 141.84 L493.20 144.54 L493.70 146.74 L494.20 148.24 L494.70 149.53 L495.20 150.66 L495.70 151.52 L496.20 151.97 L496.70 151.93 L497.20 151.49 L497.70 150.78 L498.20 149.94 L498.70 149.12 L499.20 148.43 L499.70 147.72 L500.20 146.99 L500.70 146.26 L501.20 145.59 L501.70 145.00 L502.20 144.53 L502.70 144.07 L503.20 143.63 L503.70 143.24 L504.20 142.93 L504.70 142.75 L505.20 142.72 L505.70 142.72 L506.20 142.72 L506.70 142.72 L507.20 142.70 L507.70 142.47 L508.20 142.05 L508.70 141.48 L509.20 140.83 L509.70 140.14 L510.20 139.45 L510.70 138.63 L511.20 137.68 L511.70 136.63 L512.20 135.52 L512.70 134.41 L513.20 133.32 L513.70 132.18 L514.20 131.00 L514.70 129.81 L515.20 128.64 L515.70 127.41 L516.20 126.20 L516.70 125.07 L517.20 124.08 L517.70 123.17 L518.20 122.33 L518.70 121.55 L519.20 120.85" fill="none" stroke="#3058e6" stroke-width="2.3" stroke-linejoin="round" stroke-linecap="round"/>
<path d="M41.70 106.17 L35.63 110.45 L37.95 117.38 L45.45 117.38 L47.77 110.45 Z" fill="#0000ff"/>
<path d="M80.00 102.66 L73.93 106.94 L76.25 113.87 L83.75 113.87 L86.07 106.94 Z" fill="#0000ff"/>
<path d="M112.20 113.61 L106.13 117.90 L108.45 124.83 L115.95 124.83 L118.27 117.90 Z" fill="#0000ff"/>
<path d="M142.80 110.62 L136.73 114.91 L139.05 121.84 L146.55 121.84 L148.87 114.91 Z" fill="#0000ff"/>
<path d="M182.60 101.00 L176.53 105.28 L178.85 112.21 L186.35 112.21 L188.67 105.28 Z" fill="#0000ff"/>
<path d="M218.50 99.67 L212.43 103.95 L214.75 110.88 L222.25 110.88 L224.57 103.95 Z" fill="#0000ff"/>
<path d="M249.30 101.00 L243.23 105.28 L245.55 112.21 L253.05 112.21 L255.37 105.28 Z" fill="#0000ff"/>
<path d="M281.70 92.03 L275.63 96.32 L277.95 103.25 L285.45 103.25 L287.77 96.32 Z" fill="#0000ff"/>
<path d="M319.80 98.01 L313.73 102.29 L316.05 109.22 L323.55 109.22 L325.87 102.29 Z" fill="#0000ff"/>
<path d="M352.20 101.00 L346.13 105.28 L348.45 112.21 L355.95 112.21 L358.27 105.28 Z" fill="#0000ff"/>
<path d="M384.50 92.36 L378.43 96.65 L380.75 103.58 L388.25 103.58 L390.57 96.65 Z" fill="#0000ff"/>
<path d="M421.20 99.67 L415.13 103.95 L417.45 110.88 L424.95 110.88 L427.27 103.95 Z" fill="#0000ff"/>
<path d="M456.50 105.98 L450.43 110.26 L452.75 117.19 L460.25 117.19 L462.57 110.26 Z" fill="#0000ff"/>
<path d="M487.90 106.64 L481.83 110.92 L484.15 117.86 L491.65 117.86 L493.97 110.92 Z" fill="#0000ff"/>
<path d="M295.20 122.24 L289.13 126.53 L291.45 133.46 L298.95 133.46 L301.27 126.53 Z" fill="#0000ff"/>
<path d="M519.50 114.28 L513.43 118.56 L515.75 125.49 L523.25 125.49 L525.57 118.56 Z" fill="#0000ff"/>
</g>
<g stroke="#000" stroke-width="0.8" fill="none">
<path d="M27.70 94.70 L517.00 94.70 M27.70 94.70 L27.70 167.50 L517.00 167.50"/>
<path d="M24.60 164.30 L27.70 164.30 M24.60 131.10 L27.70 131.10 M24.60 97.90 L27.70 97.90 M27.70 167.50 L27.70 170.60 M93.66 167.50 L93.66 170.60 M159.62 167.50 L159.62 170.60 M225.58 167.50 L225.58 170.60 M291.54 167.50 L291.54 170.60 M357.50 167.50 L357.50 170.60 M423.46 167.50 L423.46 170.60 M489.42 167.50 L489.42 170.60"/>
</g>
<g style="font-family:'DejaVu Sans',sans-serif" fill="#000" stroke="#000" stroke-width="0.3"><text transform="translate(21.40 167.90) scale(1 0.880)" text-anchor="end" style="font-size:10.50px">−1</text><text transform="translate(21.40 134.70) scale(1 0.880)" text-anchor="end" style="font-size:10.50px">0</text><text transform="translate(21.40 101.50) scale(1 0.880)" text-anchor="end" style="font-size:10.50px">1</text><text transform="translate(27.70 180.70) scale(1 0.880)" text-anchor="middle" style="font-size:10.50px">0</text><text transform="translate(93.66 180.70) scale(1 0.880)" text-anchor="middle" style="font-size:10.50px">2</text><text transform="translate(159.62 180.70) scale(1 0.880)" text-anchor="middle" style="font-size:10.50px">4</text><text transform="translate(225.58 180.70) scale(1 0.880)" text-anchor="middle" style="font-size:10.50px">6</text><text transform="translate(291.54 180.70) scale(1 0.880)" text-anchor="middle" style="font-size:10.50px">8</text><text transform="translate(357.50 180.70) scale(1 0.880)" text-anchor="middle" style="font-size:10.50px">10</text><text transform="translate(423.46 180.70) scale(1 0.880)" text-anchor="middle" style="font-size:10.50px">12</text><text transform="translate(489.42 180.70) scale(1 0.880)" text-anchor="middle" style="font-size:10.50px">14</text></g>
<rect x="433.60" y="97.70" width="79.90" height="18.00" rx="2" ry="2" fill="#fff" stroke="#cccccc" stroke-width="0.9"/>
<path d="M448.90 100.80 L442.83 105.08 L445.15 112.02 L452.65 112.02 L454.97 105.08 Z" fill="#0000ff"/>
<g style="font-family:'DejaVu Sans',sans-serif" fill="#000" stroke="#000" stroke-width="0.3"><text transform="translate(467.80 110.60) scale(1 0.880)" style="font-size:10.50px">1D-CNN</text></g>
<g stroke="#b0b0b0" stroke-width="0.75"><line x1="27.70" y1="182.40" x2="27.70" y2="255.20"/><line x1="93.66" y1="182.40" x2="93.66" y2="255.20"/><line x1="159.62" y1="182.40" x2="159.62" y2="255.20"/><line x1="225.58" y1="182.40" x2="225.58" y2="255.20"/><line x1="291.54" y1="182.40" x2="291.54" y2="255.20"/><line x1="357.50" y1="182.40" x2="357.50" y2="255.20"/><line x1="423.46" y1="182.40" x2="423.46" y2="255.20"/><line x1="489.42" y1="182.40" x2="489.42" y2="255.20"/><line x1="27.70" y1="252.00" x2="517.00" y2="252.00"/><line x1="27.70" y1="218.80" x2="517.00" y2="218.80"/><line x1="27.70" y1="185.60" x2="517.00" y2="185.60"/></g>
<g clip-path="url(#c2)">
<g stroke="#ff0000" stroke-width="1.4" stroke-dasharray="4.9 2.1"><line x1="41.40" y1="185.60" x2="41.40" y2="252.00"/><line x1="79.70" y1="185.60" x2="79.70" y2="252.00"/><line x1="112.30" y1="185.60" x2="112.30" y2="252.00"/><line x1="142.80" y1="185.60" x2="142.80" y2="252.00"/><line x1="182.40" y1="185.60" x2="182.40" y2="252.00"/><line x1="218.40" y1="185.60" x2="218.40" y2="252.00"/><line x1="249.40" y1="185.60" x2="249.40" y2="252.00"/><line x1="280.60" y1="185.60" x2="280.60" y2="252.00"/><line x1="319.00" y1="185.60" x2="319.00" y2="252.00"/><line x1="352.00" y1="185.60" x2="352.00" y2="252.00"/><line x1="382.60" y1="185.60" x2="382.60" y2="252.00"/><line x1="421.00" y1="185.60" x2="421.00" y2="252.00"/><line x1="456.40" y1="185.60" x2="456.40" y2="252.00"/><line x1="488.00" y1="185.60" x2="488.00" y2="252.00"/></g>
<path d="M27.70 226.10 L28.20 226.08 L28.70 226.03 L29.20 225.95 L29.70 225.84 L30.20 225.71 L30.70 225.43 L31.20 225.04 L31.70 224.58 L32.20 223.96 L32.70 223.23 L33.20 222.49 L33.70 221.73 L34.20 220.92 L34.70 220.04 L35.20 219.05 L35.70 217.89 L36.20 216.62 L36.70 215.28 L37.20 213.96 L37.70 212.64 L38.20 211.28 L38.70 209.80 L39.20 208.13 L39.70 206.11 L40.20 204.02 L40.70 202.05 L41.20 200.13 L41.70 200.07 L42.20 201.09 L42.70 202.72 L43.20 204.87 L43.70 208.91 L44.20 213.89 L44.70 218.72 L45.20 223.85 L45.70 228.69 L46.20 233.37 L46.70 237.63 L47.20 240.95 L47.70 243.92 L48.20 246.27 L48.70 247.51 L49.20 248.18 L49.70 248.60 L50.20 248.56 L50.70 247.40 L51.20 245.44 L51.70 243.24 L52.20 241.26 L52.70 239.01 L53.20 236.68 L53.70 234.65 L54.20 233.24 L54.70 232.09 L55.20 231.11 L55.70 230.38 L56.20 229.93 L56.70 229.58 L57.20 229.29 L57.70 229.12 L58.20 229.13 L58.70 229.50 L59.20 230.11 L59.70 230.76 L60.20 231.28 L60.70 231.84 L61.20 232.43 L61.70 232.98 L62.20 233.42 L62.70 233.69 L63.20 233.73 L63.70 233.58 L64.20 233.32 L64.70 232.97 L65.20 232.57 L65.70 231.93 L66.20 231.05 L66.70 230.00 L67.20 228.81 L67.70 227.54 L68.20 226.21 L68.70 224.55 L69.20 222.68 L69.70 220.82 L70.20 219.15 L70.70 217.58 L71.20 216.06 L71.70 214.63 L72.20 213.31 L72.70 212.08 L73.20 210.92 L73.70 209.80 L74.20 208.71 L74.70 207.63 L75.20 206.57 L75.70 205.53 L76.20 204.51 L76.70 203.49 L77.20 202.42 L77.70 201.13 L78.20 199.74 L78.70 198.42 L79.20 197.34 L79.70 196.68 L80.20 196.94 L80.70 199.88 L81.20 203.80 L81.70 208.91 L82.20 213.63 L82.70 218.11 L83.20 222.28 L83.70 225.92 L84.20 229.30 L84.70 232.26 L85.20 234.64 L85.70 236.76 L86.20 238.62 L86.70 240.08 L87.20 241.06 L87.70 241.88 L88.20 242.55 L88.70 242.96 L89.20 242.98 L89.70 242.42 L90.20 241.46 L90.70 240.35 L91.20 239.28 L91.70 237.92 L92.20 236.47 L92.70 235.23 L93.20 234.49 L93.70 233.90 L94.20 233.42 L94.70 233.13 L95.20 233.09 L95.70 233.26 L96.20 233.51 L96.70 233.70 L97.20 233.73 L97.70 233.58 L98.20 233.29 L98.70 232.92 L99.20 232.48 L99.70 232.02 L100.20 231.56 L100.70 231.03 L101.20 230.42 L101.70 229.74 L102.20 229.01 L102.70 228.24 L103.20 227.44 L103.70 226.55 L104.20 225.59 L104.70 224.57 L105.20 223.51 L105.70 222.43 L106.20 221.35 L106.70 220.23 L107.20 219.07 L107.70 217.89 L108.20 216.69 L108.70 215.51 L109.20 214.33 L109.70 212.94 L110.20 211.43 L110.70 209.96 L111.20 208.71 L111.70 207.84 L112.20 207.51 L112.70 208.29 L113.20 210.18 L113.70 212.50 L114.20 214.67 L114.70 217.05 L115.20 219.63 L115.70 222.25 L116.20 224.81 L116.70 227.55 L117.20 230.27 L117.70 232.64 L118.20 234.38 L118.70 235.99 L119.20 237.44 L119.70 238.52 L120.20 239.04 L120.70 238.95 L121.20 238.60 L121.70 238.08 L122.20 237.41 L122.70 236.15 L123.20 234.52 L123.70 232.89 L124.20 231.61 L124.70 230.48 L125.20 229.41 L125.70 228.41 L126.20 227.47 L126.70 226.59 L127.20 225.78 L127.70 224.98 L128.20 224.20 L128.70 223.48 L129.20 222.86 L129.70 222.35 L130.20 222.00 L130.70 221.74 L131.20 221.55 L131.70 221.38 L132.20 221.19 L132.70 220.96 L133.20 220.66 L133.70 220.24 L134.20 219.74 L134.70 219.16 L135.20 218.53 L135.70 217.87 L136.20 217.20 L136.70 216.46 L137.20 215.66 L137.70 214.81 L138.20 213.92 L138.70 212.99 L139.20 212.04 L139.70 211.08 L140.20 210.08 L140.70 208.81 L141.20 207.39 L141.70 206.06 L142.20 205.03 L142.70 204.54 L143.20 205.30 L143.70 207.98 L144.20 211.74 L144.70 215.70 L145.20 219.14 L145.70 222.81 L146.20 226.54 L146.70 229.84 L147.20 232.31 L147.70 234.42 L148.20 236.32 L148.70 238.01 L149.20 239.48 L149.70 240.73 L150.20 241.79 L150.70 242.81 L151.20 243.70 L151.70 244.26 L152.20 244.31 L152.70 243.80 L153.20 242.97 L153.70 242.12 L154.20 241.48 L154.70 240.96 L155.20 240.46 L155.70 239.99 L156.20 239.54 L156.70 239.11 L157.20 238.71 L157.70 238.33 L158.20 237.94 L158.70 237.55 L159.20 237.13 L159.70 236.69 L160.20 236.19 L160.70 235.65 L161.20 235.08 L161.70 234.47 L162.20 233.83 L162.70 233.17 L163.20 232.50 L163.70 231.82 L164.20 231.14 L164.70 230.45 L165.20 229.73 L165.70 229.00 L166.20 228.25 L166.70 227.49 L167.20 226.71 L167.70 225.92 L168.20 225.12 L168.70 224.30 L169.20 223.46 L169.70 222.60 L170.20 221.73 L170.70 220.84 L171.20 219.94 L171.70 219.02 L172.20 218.10 L172.70 217.16 L173.20 216.21 L173.70 215.25 L174.20 214.27 L174.70 213.26 L175.20 212.22 L175.70 211.16 L176.20 210.05 L176.70 208.87 L177.20 207.63 L177.70 206.35 L178.20 205.05 L178.70 203.75 L179.20 202.47 L179.70 201.25 L180.20 200.05 L180.70 198.67 L181.20 197.24 L181.70 195.99 L182.20 195.14 L182.70 195.00 L183.20 197.95 L183.70 202.84 L184.20 207.07 L184.70 211.00 L185.20 214.96 L185.70 218.85 L186.20 222.64 L186.70 226.58 L187.20 230.41 L187.70 233.77 L188.20 236.38 L188.70 238.86 L189.20 241.23 L189.70 243.31 L190.20 244.92 L190.70 245.86 L191.20 246.01 L191.70 245.87 L192.20 245.62 L192.70 245.29 L193.20 244.93 L193.70 244.56 L194.20 244.24 L194.70 243.91 L195.20 243.56 L195.70 243.20 L196.20 242.83 L196.70 242.44 L197.20 242.04 L197.70 241.63 L198.20 241.20 L198.70 240.75 L199.20 240.26 L199.70 239.76 L200.20 239.25 L200.70 238.73 L201.20 238.21 L201.70 237.69 L202.20 237.20 L202.70 236.74 L203.20 236.30 L203.70 235.88 L204.20 235.43 L204.70 234.96 L205.20 234.42 L205.70 233.82 L206.20 233.11 L206.70 232.23 L207.20 231.20 L207.70 230.03 L208.20 228.74 L208.70 227.35 L209.20 225.89 L209.70 224.37 L210.20 222.81 L210.70 221.02 L211.20 219.05 L211.70 216.96 L212.20 214.82 L212.70 212.72 L213.20 210.69 L213.70 208.58 L214.20 206.42 L214.70 204.30 L215.20 202.29 L215.70 200.49 L216.20 198.93 L216.70 197.32 L217.20 195.77 L217.70 194.50 L218.20 193.71 L218.70 193.88 L219.20 196.73 L219.70 201.04 L220.20 205.12 L220.70 209.57 L221.20 214.34 L221.70 218.96 L222.20 223.06 L222.70 227.21 L223.20 231.11 L223.70 234.19 L224.20 236.01 L224.70 237.44 L225.20 238.68 L225.70 239.63 L226.20 240.22 L226.70 240.37 L227.20 240.18 L227.70 239.78 L228.20 239.26 L228.70 238.71 L229.20 238.16 L229.70 237.42 L230.20 236.55 L230.70 235.68 L231.20 234.94 L231.70 234.49 L232.20 234.44 L232.70 234.80 L233.20 235.40 L233.70 236.06 L234.20 236.61 L234.70 237.25 L235.20 237.92 L235.70 238.52 L236.20 238.94 L236.70 239.04 L237.20 238.70 L237.70 237.98 L238.20 237.03 L238.70 236.00 L239.20 235.00 L239.70 233.91 L240.20 232.69 L240.70 231.34 L241.20 229.90 L241.70 228.38 L242.20 226.78 L242.70 225.01 L243.20 223.08 L243.70 221.04 L244.20 218.92 L244.70 216.77 L245.20 214.62 L245.70 212.42 L246.20 210.15 L246.70 207.82 L247.20 205.45 L247.70 203.01 L248.20 199.84 L248.70 196.70 L249.20 194.96 L249.70 195.40 L250.20 197.17 L250.70 199.70 L251.20 202.47 L251.70 205.19 L252.20 208.45 L252.70 212.08 L253.20 215.83 L253.70 219.45 L254.20 222.77 L254.70 226.24 L255.20 229.57 L255.70 232.28 L256.20 234.00 L256.70 235.41 L257.20 236.56 L257.70 237.26 L258.20 237.37 L258.70 237.14 L259.20 236.74 L259.70 236.23 L260.20 235.72 L260.70 235.27 L261.20 234.95 L261.70 234.65 L262.20 234.36 L262.70 234.09 L263.20 233.88 L263.70 233.76 L264.20 233.75 L264.70 233.88 L265.20 234.12 L265.70 234.44 L266.20 234.80 L266.70 235.18 L267.20 235.56 L267.70 236.04 L268.20 236.60 L268.70 237.19 L269.20 237.74 L269.70 238.19 L270.20 238.50 L270.70 238.77 L271.20 239.02 L271.70 239.22 L272.20 239.35 L272.70 239.37 L273.20 238.84 L273.70 237.72 L274.20 236.20 L274.70 234.47 L275.20 232.65 L275.70 230.29 L276.20 227.42 L276.70 224.20 L277.20 220.82 L277.70 217.36 L278.20 213.55 L278.70 209.47 L279.20 205.23 L279.70 200.74 L280.20 195.63 L280.70 190.98 L281.20 187.76 L281.70 185.93 L282.20 186.78 L282.70 188.88 L283.20 191.59 L283.70 194.39 L284.20 197.98 L284.70 202.24 L285.20 206.75 L285.70 211.12 L286.20 215.01 L286.70 218.89 L287.20 222.63 L287.70 225.87 L288.20 228.38 L288.70 230.75 L289.20 232.54 L289.70 233.05 L290.20 232.27 L290.70 230.72 L291.20 228.85 L291.70 227.10 L292.20 225.19 L292.70 223.09 L293.20 221.11 L293.70 219.51 L294.20 217.98 L294.70 216.69 L295.20 216.14 L295.70 217.36 L296.20 220.25 L296.70 223.64 L297.20 226.59 L297.70 229.91 L298.20 233.22 L298.70 235.68 L299.20 236.61 L299.70 236.96 L300.20 237.20 L300.70 237.47 L301.20 237.96 L301.70 238.83 L302.20 239.84 L302.70 240.73 L303.20 241.70 L303.70 242.63 L304.20 243.25 L304.70 243.33 L305.20 242.98 L305.70 242.36 L306.20 241.60 L306.70 240.81 L307.20 240.12 L307.70 239.48 L308.20 238.79 L308.70 237.98 L309.20 236.93 L309.70 235.41 L310.20 233.56 L310.70 231.58 L311.20 229.65 L311.70 227.63 L312.20 225.53 L312.70 223.40 L313.20 221.27 L313.70 219.15 L314.20 217.00 L314.70 214.82 L315.20 212.59 L315.70 210.28 L316.20 207.92 L316.70 205.55 L317.20 203.19 L317.70 200.89 L318.20 198.58 L318.70 195.82 L319.20 193.30 L319.70 191.95 L320.20 192.54 L320.70 194.76 L321.20 197.97 L321.70 201.51 L322.20 204.89 L322.70 208.87 L323.20 213.22 L323.70 217.34 L324.20 220.74 L324.70 223.81 L325.20 226.69 L325.70 229.37 L326.20 231.86 L326.70 234.14 L327.20 236.22 L327.70 238.28 L328.20 240.27 L328.70 242.09 L329.20 243.65 L329.70 244.85 L330.20 245.64 L330.70 246.30 L331.20 246.90 L331.70 247.40 L332.20 247.77 L332.70 247.98 L333.20 247.99 L333.70 247.72 L334.20 247.21 L334.70 246.53 L335.20 245.72 L335.70 244.87 L336.20 244.00 L336.70 242.91 L337.20 241.63 L337.70 240.23 L338.20 238.81 L338.70 237.27 L339.20 235.62 L339.70 233.90 L340.20 232.16 L340.70 230.43 L341.20 228.76 L341.70 227.10 L342.20 225.44 L342.70 223.78 L343.20 222.12 L343.70 220.46 L344.20 218.80 L344.70 217.14 L345.20 215.48 L345.70 213.82 L346.20 212.16 L346.70 210.50 L347.20 208.83 L347.70 207.08 L348.20 205.30 L348.70 203.54 L349.20 201.87 L349.70 200.35 L350.20 199.01 L350.70 197.60 L351.20 196.27 L351.70 195.28 L352.20 194.90 L352.70 197.43 L353.20 200.62 L353.70 203.14 L354.20 205.59 L354.70 208.16 L355.20 211.03 L355.70 214.24 L356.20 217.67 L356.70 221.29 L357.20 225.25 L357.70 228.81 L358.20 232.09 L358.70 233.99 L359.20 235.19 L359.70 236.04 L360.20 236.59 L360.70 237.04 L361.20 237.34 L361.70 237.38 L362.20 237.22 L362.70 236.94 L363.20 236.60 L363.70 236.25 L364.20 235.77 L364.70 235.21 L365.20 234.67 L365.70 234.24 L366.20 233.80 L366.70 233.36 L367.20 233.01 L367.70 232.78 L368.20 232.83 L368.70 233.58 L369.20 234.73 L369.70 235.89 L370.20 237.45 L370.70 238.77 L371.20 239.05 L371.70 239.05 L372.20 239.05 L372.70 239.09 L373.20 239.43 L373.70 239.91 L374.20 240.30 L374.70 239.98 L375.20 236.70 L375.70 232.82 L376.20 228.30 L376.70 225.73 L377.20 224.43 L377.70 223.42 L378.20 222.35 L378.70 221.42 L379.20 220.35 L379.70 218.64 L380.20 215.54 L380.70 211.12 L381.20 204.37 L381.70 198.20 L382.20 192.59 L382.70 189.84 L383.20 188.23 L383.70 187.05 L384.20 186.38 L384.70 186.31 L385.20 186.79 L385.70 187.80 L386.20 189.37 L386.70 192.62 L387.20 203.32 L387.70 215.52 L388.20 225.10 L388.70 230.96 L389.20 236.51 L389.70 241.07 L390.20 244.82 L390.70 247.12 L391.20 248.68 L391.70 248.54 L392.20 244.81 L392.70 240.86 L393.20 236.87 L393.70 234.88 L394.20 233.93 L394.70 234.17 L395.20 237.14 L395.70 238.68 L396.20 239.19 L396.70 239.48 L397.20 239.69 L397.70 239.85 L398.20 239.98 L398.70 240.09 L399.20 240.21 L399.70 240.31 L400.20 240.37 L400.70 240.36 L401.20 240.19 L401.70 239.90 L402.20 239.57 L402.70 239.27 L403.20 239.00 L403.70 238.66 L404.20 238.13 L404.70 237.13 L405.20 235.78 L405.70 234.28 L406.20 232.83 L406.70 231.29 L407.20 229.64 L407.70 227.92 L408.20 226.18 L408.70 224.46 L409.20 222.78 L409.70 221.05 L410.20 219.29 L410.70 217.55 L411.20 215.88 L411.70 214.33 L412.20 212.96 L412.70 211.70 L413.20 210.54 L413.70 209.44 L414.20 208.38 L414.70 207.33 L415.20 206.28 L415.70 205.20 L416.20 204.06 L416.70 202.88 L417.20 201.67 L417.70 200.46 L418.20 199.29 L418.70 198.18 L419.20 197.12 L419.70 195.94 L420.20 194.79 L420.70 193.91 L421.20 193.57 L421.70 195.06 L422.20 198.66 L422.70 203.05 L423.20 207.10 L423.70 211.48 L424.20 216.17 L424.70 220.82 L425.20 225.15 L425.70 229.46 L426.20 233.63 L426.70 237.41 L427.20 240.62 L427.70 243.68 L428.20 246.43 L428.70 248.53 L429.20 249.75 L429.70 250.65 L430.20 251.23 L430.70 251.31 L431.20 251.06 L431.70 250.63 L432.20 250.11 L432.70 249.25 L433.20 248.15 L433.70 246.99 L434.20 245.96 L434.70 244.96 L435.20 243.97 L435.70 242.97 L436.20 241.97 L436.70 240.98 L437.20 239.98 L437.70 239.00 L438.20 238.03 L438.70 237.06 L439.20 236.06 L439.70 235.04 L440.20 233.97 L440.70 232.89 L441.20 231.78 L441.70 230.63 L442.20 229.44 L442.70 228.20 L443.20 226.90 L443.70 225.47 L444.20 223.96 L444.70 222.40 L445.20 220.84 L445.70 219.33 L446.20 217.90 L446.70 216.43 L447.20 214.96 L447.70 213.53 L448.20 212.22 L448.70 211.08 L449.20 210.15 L449.70 209.36 L450.20 208.66 L450.70 208.02 L451.20 207.42 L451.70 206.85 L452.20 206.30 L452.70 205.83 L453.20 205.38 L453.70 204.88 L454.20 204.22 L454.70 203.17 L455.20 201.92 L455.70 200.78 L456.20 200.02 L456.70 200.06 L457.20 201.93 L457.70 205.23 L458.20 209.27 L458.70 213.33 L459.20 216.82 L459.70 220.34 L460.20 223.93 L460.70 227.43 L461.20 230.74 L461.70 234.14 L462.20 237.39 L462.70 240.13 L463.20 242.08 L463.70 243.82 L464.20 245.28 L464.70 246.19 L465.20 246.36 L465.70 246.36 L466.20 246.36 L466.70 246.36 L467.20 246.31 L467.70 245.89 L468.20 245.12 L468.70 244.12 L469.20 243.03 L469.70 241.95 L470.20 241.01 L470.70 240.07 L471.20 239.10 L471.70 238.10 L472.20 237.08 L472.70 236.05 L473.20 235.03 L473.70 234.01 L474.20 233.01 L474.70 232.01 L475.20 231.02 L475.70 230.02 L476.20 229.03 L476.70 228.03 L477.20 227.03 L477.70 226.04 L478.20 225.04 L478.70 224.08 L479.20 223.13 L479.70 222.18 L480.20 221.22 L480.70 220.24 L481.20 219.22 L481.70 218.15 L482.20 217.01 L482.70 215.79 L483.20 214.50 L483.70 213.16 L484.20 211.77 L484.70 210.36 L485.20 208.89 L485.70 207.04 L486.20 204.99 L486.70 203.04 L487.20 201.49 L487.70 200.63 L488.20 200.93 L488.70 202.97 L489.20 206.11 L489.70 209.57 L490.20 212.75 L490.70 216.27 L491.20 220.01 L491.70 223.56 L492.20 226.61 L492.70 229.54 L493.20 232.24 L493.70 234.44 L494.20 235.94 L494.70 237.23 L495.20 238.36 L495.70 239.22 L496.20 239.67 L496.70 239.63 L497.20 239.19 L497.70 238.48 L498.20 237.64 L498.70 236.82 L499.20 236.13 L499.70 235.42 L500.20 234.69 L500.70 233.96 L501.20 233.29 L501.70 232.70 L502.20 232.23 L502.70 231.77 L503.20 231.33 L503.70 230.94 L504.20 230.63 L504.70 230.45 L505.20 230.42 L505.70 230.42 L506.20 230.42 L506.70 230.42 L507.20 230.40 L507.70 230.17 L508.20 229.75 L508.70 229.18 L509.20 228.53 L509.70 227.84 L510.20 227.15 L510.70 226.33 L511.20 225.38 L511.70 224.33 L512.20 223.22 L512.70 222.11 L513.20 221.02 L513.70 219.88 L514.20 218.70 L514.70 217.51 L515.20 216.34 L515.70 215.11 L516.20 213.90 L516.70 212.77 L517.20 211.78 L517.70 210.87 L518.20 210.03 L518.70 209.25 L519.20 208.55" fill="none" stroke="#3058e6" stroke-width="2.3" stroke-linejoin="round" stroke-linecap="round"/>
<path d="M35.40 193.77 L48.00 206.37 M35.40 206.37 L48.00 193.77" stroke="#000" stroke-width="1.25" fill="none"/>
<path d="M73.70 190.26 L86.30 202.86 M73.70 202.86 L86.30 190.26" stroke="#000" stroke-width="1.25" fill="none"/>
<path d="M105.90 201.21 L118.50 213.81 M105.90 213.81 L118.50 201.21" stroke="#000" stroke-width="1.25" fill="none"/>
<path d="M136.50 198.22 L149.10 210.82 M136.50 210.82 L149.10 198.22" stroke="#000" stroke-width="1.25" fill="none"/>
<path d="M176.30 188.60 L188.90 201.20 M176.30 201.20 L188.90 188.60" stroke="#000" stroke-width="1.25" fill="none"/>
<path d="M212.20 187.27 L224.80 199.87 M212.20 199.87 L224.80 187.27" stroke="#000" stroke-width="1.25" fill="none"/>
<path d="M243.00 188.60 L255.60 201.20 M243.00 201.20 L255.60 188.60" stroke="#000" stroke-width="1.25" fill="none"/>
<path d="M275.40 179.63 L288.00 192.23 M275.40 192.23 L288.00 179.63" stroke="#000" stroke-width="1.25" fill="none"/>
<path d="M313.50 185.61 L326.10 198.21 M313.50 198.21 L326.10 185.61" stroke="#000" stroke-width="1.25" fill="none"/>
<path d="M345.90 188.60 L358.50 201.20 M345.90 201.20 L358.50 188.60" stroke="#000" stroke-width="1.25" fill="none"/>
<path d="M414.90 187.27 L427.50 199.87 M414.90 199.87 L427.50 187.27" stroke="#000" stroke-width="1.25" fill="none"/>
<path d="M450.20 193.58 L462.80 206.18 M450.20 206.18 L462.80 193.58" stroke="#000" stroke-width="1.25" fill="none"/>
<path d="M481.60 194.24 L494.20 206.84 M481.60 206.84 L494.20 194.24" stroke="#000" stroke-width="1.25" fill="none"/>
<path d="M288.90 209.84 L301.50 222.44 M288.90 222.44 L301.50 209.84" stroke="#000" stroke-width="1.25" fill="none"/>
<path d="M513.20 201.88 L525.80 214.48 M513.20 214.48 L525.80 201.88" stroke="#000" stroke-width="1.25" fill="none"/>
</g>
<g stroke="#000" stroke-width="0.8" fill="none">
<path d="M27.70 182.40 L517.00 182.40 M27.70 182.40 L27.70 255.20 L517.00 255.20"/>
<path d="M24.60 252.00 L27.70 252.00 M24.60 218.80 L27.70 218.80 M24.60 185.60 L27.70 185.60 M27.70 255.20 L27.70 258.30 M93.66 255.20 L93.66 258.30 M159.62 255.20 L159.62 258.30 M225.58 255.20 L225.58 258.30 M291.54 255.20 L291.54 258.30 M357.50 255.20 L357.50 258.30 M423.46 255.20 L423.46 258.30 M489.42 255.20 L489.42 258.30"/>
</g>
<g style="font-family:'DejaVu Sans',sans-serif" fill="#000" stroke="#000" stroke-width="0.3"><text transform="translate(21.40 255.60) scale(1 0.880)" text-anchor="end" style="font-size:10.50px">−1</text><text transform="translate(21.40 222.40) scale(1 0.880)" text-anchor="end" style="font-size:10.50px">0</text><text transform="translate(21.40 189.20) scale(1 0.880)" text-anchor="end" style="font-size:10.50px">1</text><text transform="translate(27.70 268.40) scale(1 0.880)" text-anchor="middle" style="font-size:10.50px">0</text><text transform="translate(93.66 268.40) scale(1 0.880)" text-anchor="middle" style="font-size:10.50px">2</text><text transform="translate(159.62 268.40) scale(1 0.880)" text-anchor="middle" style="font-size:10.50px">4</text><text transform="translate(225.58 268.40) scale(1 0.880)" text-anchor="middle" style="font-size:10.50px">6</text><text transform="translate(291.54 268.40) scale(1 0.880)" text-anchor="middle" style="font-size:10.50px">8</text><text transform="translate(357.50 268.40) scale(1 0.880)" text-anchor="middle" style="font-size:10.50px">10</text><text transform="translate(423.46 268.40) scale(1 0.880)" text-anchor="middle" style="font-size:10.50px">12</text><text transform="translate(489.42 268.40) scale(1 0.880)" text-anchor="middle" style="font-size:10.50px">14</text></g>
<rect x="436.40" y="185.40" width="77.00" height="18.00" rx="2" ry="2" fill="#fff" stroke="#cccccc" stroke-width="0.9"/>
<path d="M445.40 188.40 L458.00 201.00 M445.40 201.00 L458.00 188.40" stroke="#000" stroke-width="1.25" fill="none"/>
<g style="font-family:'DejaVu Sans',sans-serif" fill="#000" stroke="#000" stroke-width="0.3"><text transform="translate(470.60 198.30) scale(1 0.880)" style="font-size:10.50px">Elgendi</text></g>
<g stroke="#b0b0b0" stroke-width="0.75"><line x1="27.70" y1="270.10" x2="27.70" y2="342.90"/><line x1="93.66" y1="270.10" x2="93.66" y2="342.90"/><line x1="159.62" y1="270.10" x2="159.62" y2="342.90"/><line x1="225.58" y1="270.10" x2="225.58" y2="342.90"/><line x1="291.54" y1="270.10" x2="291.54" y2="342.90"/><line x1="357.50" y1="270.10" x2="357.50" y2="342.90"/><line x1="423.46" y1="270.10" x2="423.46" y2="342.90"/><line x1="489.42" y1="270.10" x2="489.42" y2="342.90"/><line x1="27.70" y1="339.70" x2="517.00" y2="339.70"/><line x1="27.70" y1="306.50" x2="517.00" y2="306.50"/><line x1="27.70" y1="273.30" x2="517.00" y2="273.30"/></g>
<g clip-path="url(#c3)">
<g stroke="#ff0000" stroke-width="1.4" stroke-dasharray="4.9 2.1"><line x1="41.40" y1="273.30" x2="41.40" y2="339.70"/><line x1="79.70" y1="273.30" x2="79.70" y2="339.70"/><line x1="112.30" y1="273.30" x2="112.30" y2="339.70"/><line x1="142.80" y1="273.30" x2="142.80" y2="339.70"/><line x1="182.40" y1="273.30" x2="182.40" y2="339.70"/><line x1="218.40" y1="273.30" x2="218.40" y2="339.70"/><line x1="249.40" y1="273.30" x2="249.40" y2="339.70"/><line x1="280.60" y1="273.30" x2="280.60" y2="339.70"/><line x1="319.00" y1="273.30" x2="319.00" y2="339.70"/><line x1="352.00" y1="273.30" x2="352.00" y2="339.70"/><line x1="382.60" y1="273.30" x2="382.60" y2="339.70"/><line x1="421.00" y1="273.30" x2="421.00" y2="339.70"/><line x1="456.40" y1="273.30" x2="456.40" y2="339.70"/><line x1="488.00" y1="273.30" x2="488.00" y2="339.70"/></g>
<path d="M27.70 313.80 L28.20 313.78 L28.70 313.73 L29.20 313.65 L29.70 313.54 L30.20 313.41 L30.70 313.13 L31.20 312.74 L31.70 312.28 L32.20 311.66 L32.70 310.93 L33.20 310.19 L33.70 309.43 L34.20 308.62 L34.70 307.74 L35.20 306.75 L35.70 305.59 L36.20 304.32 L36.70 302.98 L37.20 301.66 L37.70 300.34 L38.20 298.98 L38.70 297.50 L39.20 295.83 L39.70 293.81 L40.20 291.72 L40.70 289.75 L41.20 287.83 L41.70 287.77 L42.20 288.79 L42.70 290.42 L43.20 292.57 L43.70 296.61 L44.20 301.59 L44.70 306.42 L45.20 311.55 L45.70 316.39 L46.20 321.07 L46.70 325.33 L47.20 328.65 L47.70 331.62 L48.20 333.97 L48.70 335.21 L49.20 335.88 L49.70 336.30 L50.20 336.26 L50.70 335.10 L51.20 333.14 L51.70 330.94 L52.20 328.96 L52.70 326.71 L53.20 324.38 L53.70 322.35 L54.20 320.94 L54.70 319.79 L55.20 318.81 L55.70 318.08 L56.20 317.63 L56.70 317.28 L57.20 316.99 L57.70 316.82 L58.20 316.83 L58.70 317.20 L59.20 317.81 L59.70 318.46 L60.20 318.98 L60.70 319.54 L61.20 320.13 L61.70 320.68 L62.20 321.12 L62.70 321.39 L63.20 321.43 L63.70 321.28 L64.20 321.02 L64.70 320.67 L65.20 320.27 L65.70 319.63 L66.20 318.75 L66.70 317.70 L67.20 316.51 L67.70 315.24 L68.20 313.91 L68.70 312.25 L69.20 310.38 L69.70 308.52 L70.20 306.85 L70.70 305.28 L71.20 303.76 L71.70 302.33 L72.20 301.01 L72.70 299.78 L73.20 298.62 L73.70 297.50 L74.20 296.41 L74.70 295.33 L75.20 294.27 L75.70 293.23 L76.20 292.21 L76.70 291.19 L77.20 290.12 L77.70 288.83 L78.20 287.44 L78.70 286.12 L79.20 285.04 L79.70 284.38 L80.20 284.64 L80.70 287.58 L81.20 291.50 L81.70 296.61 L82.20 301.33 L82.70 305.81 L83.20 309.98 L83.70 313.62 L84.20 317.00 L84.70 319.96 L85.20 322.34 L85.70 324.46 L86.20 326.32 L86.70 327.78 L87.20 328.76 L87.70 329.58 L88.20 330.25 L88.70 330.66 L89.20 330.68 L89.70 330.12 L90.20 329.16 L90.70 328.05 L91.20 326.98 L91.70 325.62 L92.20 324.17 L92.70 322.93 L93.20 322.19 L93.70 321.60 L94.20 321.12 L94.70 320.83 L95.20 320.79 L95.70 320.96 L96.20 321.21 L96.70 321.40 L97.20 321.43 L97.70 321.28 L98.20 320.99 L98.70 320.62 L99.20 320.18 L99.70 319.72 L100.20 319.26 L100.70 318.73 L101.20 318.12 L101.70 317.44 L102.20 316.71 L102.70 315.94 L103.20 315.14 L103.70 314.25 L104.20 313.29 L104.70 312.27 L105.20 311.21 L105.70 310.13 L106.20 309.05 L106.70 307.93 L107.20 306.77 L107.70 305.59 L108.20 304.39 L108.70 303.21 L109.20 302.03 L109.70 300.64 L110.20 299.13 L110.70 297.66 L111.20 296.41 L111.70 295.54 L112.20 295.21 L112.70 295.99 L113.20 297.88 L113.70 300.20 L114.20 302.37 L114.70 304.75 L115.20 307.33 L115.70 309.95 L116.20 312.51 L116.70 315.25 L117.20 317.97 L117.70 320.34 L118.20 322.08 L118.70 323.69 L119.20 325.14 L119.70 326.22 L120.20 326.74 L120.70 326.65 L121.20 326.30 L121.70 325.78 L122.20 325.11 L122.70 323.85 L123.20 322.22 L123.70 320.59 L124.20 319.31 L124.70 318.18 L125.20 317.11 L125.70 316.11 L126.20 315.17 L126.70 314.29 L127.20 313.48 L127.70 312.68 L128.20 311.90 L128.70 311.18 L129.20 310.56 L129.70 310.05 L130.20 309.70 L130.70 309.44 L131.20 309.25 L131.70 309.08 L132.20 308.89 L132.70 308.66 L133.20 308.36 L133.70 307.94 L134.20 307.44 L134.70 306.86 L135.20 306.23 L135.70 305.57 L136.20 304.90 L136.70 304.16 L137.20 303.36 L137.70 302.51 L138.20 301.62 L138.70 300.69 L139.20 299.74 L139.70 298.78 L140.20 297.78 L140.70 296.51 L141.20 295.09 L141.70 293.76 L142.20 292.73 L142.70 292.24 L143.20 293.00 L143.70 295.68 L144.20 299.44 L144.70 303.40 L145.20 306.84 L145.70 310.51 L146.20 314.24 L146.70 317.54 L147.20 320.01 L147.70 322.12 L148.20 324.02 L148.70 325.71 L149.20 327.18 L149.70 328.43 L150.20 329.49 L150.70 330.51 L151.20 331.40 L151.70 331.96 L152.20 332.01 L152.70 331.50 L153.20 330.67 L153.70 329.82 L154.20 329.18 L154.70 328.66 L155.20 328.16 L155.70 327.69 L156.20 327.24 L156.70 326.81 L157.20 326.41 L157.70 326.03 L158.20 325.64 L158.70 325.25 L159.20 324.83 L159.70 324.39 L160.20 323.89 L160.70 323.35 L161.20 322.78 L161.70 322.17 L162.20 321.53 L162.70 320.87 L163.20 320.20 L163.70 319.52 L164.20 318.84 L164.70 318.15 L165.20 317.43 L165.70 316.70 L166.20 315.95 L166.70 315.19 L167.20 314.41 L167.70 313.62 L168.20 312.82 L168.70 312.00 L169.20 311.16 L169.70 310.30 L170.20 309.43 L170.70 308.54 L171.20 307.64 L171.70 306.72 L172.20 305.80 L172.70 304.86 L173.20 303.91 L173.70 302.95 L174.20 301.97 L174.70 300.96 L175.20 299.92 L175.70 298.86 L176.20 297.75 L176.70 296.57 L177.20 295.33 L177.70 294.05 L178.20 292.75 L178.70 291.45 L179.20 290.17 L179.70 288.95 L180.20 287.75 L180.70 286.37 L181.20 284.94 L181.70 283.69 L182.20 282.84 L182.70 282.70 L183.20 285.65 L183.70 290.54 L184.20 294.77 L184.70 298.70 L185.20 302.66 L185.70 306.55 L186.20 310.34 L186.70 314.28 L187.20 318.11 L187.70 321.47 L188.20 324.08 L188.70 326.56 L189.20 328.93 L189.70 331.01 L190.20 332.62 L190.70 333.56 L191.20 333.71 L191.70 333.57 L192.20 333.32 L192.70 332.99 L193.20 332.63 L193.70 332.26 L194.20 331.94 L194.70 331.61 L195.20 331.26 L195.70 330.90 L196.20 330.53 L196.70 330.14 L197.20 329.74 L197.70 329.33 L198.20 328.90 L198.70 328.45 L199.20 327.96 L199.70 327.46 L200.20 326.95 L200.70 326.43 L201.20 325.91 L201.70 325.39 L202.20 324.90 L202.70 324.44 L203.20 324.00 L203.70 323.58 L204.20 323.13 L204.70 322.66 L205.20 322.12 L205.70 321.52 L206.20 320.81 L206.70 319.93 L207.20 318.90 L207.70 317.73 L208.20 316.44 L208.70 315.05 L209.20 313.59 L209.70 312.07 L210.20 310.51 L210.70 308.72 L211.20 306.75 L211.70 304.66 L212.20 302.52 L212.70 300.42 L213.20 298.39 L213.70 296.28 L214.20 294.12 L214.70 292.00 L215.20 289.99 L215.70 288.19 L216.20 286.63 L216.70 285.02 L217.20 283.47 L217.70 282.20 L218.20 281.41 L218.70 281.58 L219.20 284.43 L219.70 288.74 L220.20 292.82 L220.70 297.27 L221.20 302.04 L221.70 306.66 L222.20 310.76 L222.70 314.91 L223.20 318.81 L223.70 321.89 L224.20 323.71 L224.70 325.14 L225.20 326.38 L225.70 327.33 L226.20 327.92 L226.70 328.07 L227.20 327.88 L227.70 327.48 L228.20 326.96 L228.70 326.41 L229.20 325.86 L229.70 325.12 L230.20 324.25 L230.70 323.38 L231.20 322.64 L231.70 322.19 L232.20 322.14 L232.70 322.50 L233.20 323.10 L233.70 323.76 L234.20 324.31 L234.70 324.95 L235.20 325.62 L235.70 326.22 L236.20 326.64 L236.70 326.74 L237.20 326.40 L237.70 325.68 L238.20 324.73 L238.70 323.70 L239.20 322.70 L239.70 321.61 L240.20 320.39 L240.70 319.04 L241.20 317.60 L241.70 316.08 L242.20 314.48 L242.70 312.71 L243.20 310.78 L243.70 308.74 L244.20 306.62 L244.70 304.47 L245.20 302.32 L245.70 300.12 L246.20 297.85 L246.70 295.52 L247.20 293.15 L247.70 290.71 L248.20 287.54 L248.70 284.40 L249.20 282.66 L249.70 283.10 L250.20 284.87 L250.70 287.40 L251.20 290.17 L251.70 292.89 L252.20 296.15 L252.70 299.78 L253.20 303.53 L253.70 307.15 L254.20 310.47 L254.70 313.94 L255.20 317.27 L255.70 319.98 L256.20 321.70 L256.70 323.11 L257.20 324.26 L257.70 324.96 L258.20 325.07 L258.70 324.84 L259.20 324.44 L259.70 323.93 L260.20 323.42 L260.70 322.97 L261.20 322.65 L261.70 322.35 L262.20 322.06 L262.70 321.79 L263.20 321.58 L263.70 321.46 L264.20 321.45 L264.70 321.58 L265.20 321.82 L265.70 322.14 L266.20 322.50 L266.70 322.88 L267.20 323.26 L267.70 323.74 L268.20 324.30 L268.70 324.89 L269.20 325.44 L269.70 325.89 L270.20 326.20 L270.70 326.47 L271.20 326.72 L271.70 326.92 L272.20 327.05 L272.70 327.07 L273.20 326.54 L273.70 325.42 L274.20 323.90 L274.70 322.17 L275.20 320.35 L275.70 317.99 L276.20 315.12 L276.70 311.90 L277.20 308.52 L277.70 305.06 L278.20 301.25 L278.70 297.17 L279.20 292.93 L279.70 288.44 L280.20 283.33 L280.70 278.68 L281.20 275.46 L281.70 273.63 L282.20 274.48 L282.70 276.58 L283.20 279.29 L283.70 282.09 L284.20 285.68 L284.70 289.94 L285.20 294.45 L285.70 298.82 L286.20 302.71 L286.70 306.59 L287.20 310.33 L287.70 313.57 L288.20 316.08 L288.70 318.45 L289.20 320.24 L289.70 320.75 L290.20 319.97 L290.70 318.42 L291.20 316.55 L291.70 314.80 L292.20 312.89 L292.70 310.79 L293.20 308.81 L293.70 307.21 L294.20 305.68 L294.70 304.39 L295.20 303.84 L295.70 305.06 L296.20 307.95 L296.70 311.34 L297.20 314.29 L297.70 317.61 L298.20 320.92 L298.70 323.38 L299.20 324.31 L299.70 324.66 L300.20 324.90 L300.70 325.17 L301.20 325.66 L301.70 326.53 L302.20 327.54 L302.70 328.43 L303.20 329.40 L303.70 330.33 L304.20 330.95 L304.70 331.03 L305.20 330.68 L305.70 330.06 L306.20 329.30 L306.70 328.51 L307.20 327.82 L307.70 327.18 L308.20 326.49 L308.70 325.68 L309.20 324.63 L309.70 323.11 L310.20 321.26 L310.70 319.28 L311.20 317.35 L311.70 315.33 L312.20 313.23 L312.70 311.10 L313.20 308.97 L313.70 306.85 L314.20 304.70 L314.70 302.52 L315.20 300.29 L315.70 297.98 L316.20 295.62 L316.70 293.25 L317.20 290.89 L317.70 288.59 L318.20 286.28 L318.70 283.52 L319.20 281.00 L319.70 279.65 L320.20 280.24 L320.70 282.46 L321.20 285.67 L321.70 289.21 L322.20 292.59 L322.70 296.57 L323.20 300.92 L323.70 305.04 L324.20 308.44 L324.70 311.51 L325.20 314.39 L325.70 317.07 L326.20 319.56 L326.70 321.84 L327.20 323.92 L327.70 325.98 L328.20 327.97 L328.70 329.79 L329.20 331.35 L329.70 332.55 L330.20 333.34 L330.70 334.00 L331.20 334.60 L331.70 335.10 L332.20 335.47 L332.70 335.68 L333.20 335.69 L333.70 335.42 L334.20 334.91 L334.70 334.23 L335.20 333.42 L335.70 332.57 L336.20 331.70 L336.70 330.61 L337.20 329.33 L337.70 327.93 L338.20 326.51 L338.70 324.97 L339.20 323.32 L339.70 321.60 L340.20 319.86 L340.70 318.13 L341.20 316.46 L341.70 314.80 L342.20 313.14 L342.70 311.48 L343.20 309.82 L343.70 308.16 L344.20 306.50 L344.70 304.84 L345.20 303.18 L345.70 301.52 L346.20 299.86 L346.70 298.20 L347.20 296.53 L347.70 294.78 L348.20 293.00 L348.70 291.24 L349.20 289.57 L349.70 288.05 L350.20 286.71 L350.70 285.30 L351.20 283.97 L351.70 282.98 L352.20 282.60 L352.70 285.13 L353.20 288.32 L353.70 290.84 L354.20 293.29 L354.70 295.86 L355.20 298.73 L355.70 301.94 L356.20 305.37 L356.70 308.99 L357.20 312.95 L357.70 316.51 L358.20 319.79 L358.70 321.69 L359.20 322.89 L359.70 323.74 L360.20 324.29 L360.70 324.74 L361.20 325.04 L361.70 325.08 L362.20 324.92 L362.70 324.64 L363.20 324.30 L363.70 323.95 L364.20 323.47 L364.70 322.91 L365.20 322.37 L365.70 321.94 L366.20 321.50 L366.70 321.06 L367.20 320.71 L367.70 320.48 L368.20 320.53 L368.70 321.28 L369.20 322.43 L369.70 323.59 L370.20 325.15 L370.70 326.47 L371.20 326.75 L371.70 326.75 L372.20 326.75 L372.70 326.79 L373.20 327.13 L373.70 327.61 L374.20 328.00 L374.70 327.68 L375.20 324.40 L375.70 320.52 L376.20 316.00 L376.70 313.43 L377.20 312.13 L377.70 311.12 L378.20 310.05 L378.70 309.12 L379.20 308.05 L379.70 306.34 L380.20 303.24 L380.70 298.82 L381.20 292.07 L381.70 285.90 L382.20 280.29 L382.70 277.54 L383.20 275.93 L383.70 274.75 L384.20 274.08 L384.70 274.01 L385.20 274.49 L385.70 275.50 L386.20 277.07 L386.70 280.32 L387.20 291.02 L387.70 303.22 L388.20 312.80 L388.70 318.66 L389.20 324.21 L389.70 328.77 L390.20 332.52 L390.70 334.82 L391.20 336.38 L391.70 336.24 L392.20 332.51 L392.70 328.56 L393.20 324.57 L393.70 322.58 L394.20 321.63 L394.70 321.87 L395.20 324.84 L395.70 326.38 L396.20 326.89 L396.70 327.18 L397.20 327.39 L397.70 327.55 L398.20 327.68 L398.70 327.79 L399.20 327.91 L399.70 328.01 L400.20 328.07 L400.70 328.06 L401.20 327.89 L401.70 327.60 L402.20 327.27 L402.70 326.97 L403.20 326.70 L403.70 326.36 L404.20 325.83 L404.70 324.83 L405.20 323.48 L405.70 321.98 L406.20 320.53 L406.70 318.99 L407.20 317.34 L407.70 315.62 L408.20 313.88 L408.70 312.16 L409.20 310.48 L409.70 308.75 L410.20 306.99 L410.70 305.25 L411.20 303.58 L411.70 302.03 L412.20 300.66 L412.70 299.40 L413.20 298.24 L413.70 297.14 L414.20 296.08 L414.70 295.03 L415.20 293.98 L415.70 292.90 L416.20 291.76 L416.70 290.58 L417.20 289.37 L417.70 288.16 L418.20 286.99 L418.70 285.88 L419.20 284.82 L419.70 283.64 L420.20 282.49 L420.70 281.61 L421.20 281.27 L421.70 282.76 L422.20 286.36 L422.70 290.75 L423.20 294.80 L423.70 299.18 L424.20 303.87 L424.70 308.52 L425.20 312.85 L425.70 317.16 L426.20 321.33 L426.70 325.11 L427.20 328.32 L427.70 331.38 L428.20 334.13 L428.70 336.23 L429.20 337.45 L429.70 338.35 L430.20 338.93 L430.70 339.01 L431.20 338.76 L431.70 338.33 L432.20 337.81 L432.70 336.95 L433.20 335.85 L433.70 334.69 L434.20 333.66 L434.70 332.66 L435.20 331.67 L435.70 330.67 L436.20 329.67 L436.70 328.68 L437.20 327.68 L437.70 326.70 L438.20 325.73 L438.70 324.76 L439.20 323.76 L439.70 322.74 L440.20 321.67 L440.70 320.59 L441.20 319.48 L441.70 318.33 L442.20 317.14 L442.70 315.90 L443.20 314.60 L443.70 313.17 L444.20 311.66 L444.70 310.10 L445.20 308.54 L445.70 307.03 L446.20 305.60 L446.70 304.13 L447.20 302.66 L447.70 301.23 L448.20 299.92 L448.70 298.78 L449.20 297.85 L449.70 297.06 L450.20 296.36 L450.70 295.72 L451.20 295.12 L451.70 294.55 L452.20 294.00 L452.70 293.53 L453.20 293.08 L453.70 292.58 L454.20 291.92 L454.70 290.87 L455.20 289.62 L455.70 288.48 L456.20 287.72 L456.70 287.76 L457.20 289.63 L457.70 292.93 L458.20 296.97 L458.70 301.03 L459.20 304.52 L459.70 308.04 L460.20 311.63 L460.70 315.13 L461.20 318.44 L461.70 321.84 L462.20 325.09 L462.70 327.83 L463.20 329.78 L463.70 331.52 L464.20 332.98 L464.70 333.89 L465.20 334.06 L465.70 334.06 L466.20 334.06 L466.70 334.06 L467.20 334.01 L467.70 333.59 L468.20 332.82 L468.70 331.82 L469.20 330.73 L469.70 329.65 L470.20 328.71 L470.70 327.77 L471.20 326.80 L471.70 325.80 L472.20 324.78 L472.70 323.75 L473.20 322.73 L473.70 321.71 L474.20 320.71 L474.70 319.71 L475.20 318.72 L475.70 317.72 L476.20 316.73 L476.70 315.73 L477.20 314.73 L477.70 313.74 L478.20 312.74 L478.70 311.78 L479.20 310.83 L479.70 309.88 L480.20 308.92 L480.70 307.94 L481.20 306.92 L481.70 305.85 L482.20 304.71 L482.70 303.49 L483.20 302.20 L483.70 300.86 L484.20 299.47 L484.70 298.06 L485.20 296.59 L485.70 294.74 L486.20 292.69 L486.70 290.74 L487.20 289.19 L487.70 288.33 L488.20 288.63 L488.70 290.67 L489.20 293.81 L489.70 297.27 L490.20 300.45 L490.70 303.97 L491.20 307.71 L491.70 311.26 L492.20 314.31 L492.70 317.24 L493.20 319.94 L493.70 322.14 L494.20 323.64 L494.70 324.93 L495.20 326.06 L495.70 326.92 L496.20 327.37 L496.70 327.33 L497.20 326.89 L497.70 326.18 L498.20 325.34 L498.70 324.52 L499.20 323.83 L499.70 323.12 L500.20 322.39 L500.70 321.66 L501.20 320.99 L501.70 320.40 L502.20 319.93 L502.70 319.47 L503.20 319.03 L503.70 318.64 L504.20 318.33 L504.70 318.15 L505.20 318.12 L505.70 318.12 L506.20 318.12 L506.70 318.12 L507.20 318.10 L507.70 317.87 L508.20 317.45 L508.70 316.88 L509.20 316.23 L509.70 315.54 L510.20 314.85 L510.70 314.03 L511.20 313.08 L511.70 312.03 L512.20 310.92 L512.70 309.81 L513.20 308.72 L513.70 307.58 L514.20 306.40 L514.70 305.21 L515.20 304.04 L515.70 302.81 L516.20 301.60 L516.70 300.47 L517.20 299.48 L517.70 298.57 L518.20 297.73 L518.70 296.95 L519.20 296.25" fill="none" stroke="#3058e6" stroke-width="2.3" stroke-linejoin="round" stroke-linecap="round"/>
<rect x="37.00" y="283.07" width="9.40" height="9.40" fill="#008000"/>
<rect x="75.30" y="279.56" width="9.40" height="9.40" fill="#008000"/>
<rect x="107.50" y="290.51" width="9.40" height="9.40" fill="#008000"/>
<rect x="138.10" y="287.52" width="9.40" height="9.40" fill="#008000"/>
<rect x="177.90" y="277.90" width="9.40" height="9.40" fill="#008000"/>
<rect x="213.80" y="276.57" width="9.40" height="9.40" fill="#008000"/>
<rect x="244.60" y="277.90" width="9.40" height="9.40" fill="#008000"/>
<rect x="315.10" y="274.91" width="9.40" height="9.40" fill="#008000"/>
<rect x="347.50" y="277.90" width="9.40" height="9.40" fill="#008000"/>
<rect x="379.80" y="269.26" width="9.40" height="9.40" fill="#008000"/>
<rect x="416.50" y="276.57" width="9.40" height="9.40" fill="#008000"/>
<rect x="451.80" y="282.88" width="9.40" height="9.40" fill="#008000"/>
<rect x="483.20" y="283.54" width="9.40" height="9.40" fill="#008000"/>
<rect x="290.50" y="299.14" width="9.40" height="9.40" fill="#008000"/>
<rect x="514.80" y="291.18" width="9.40" height="9.40" fill="#008000"/>
</g>
<g stroke="#000" stroke-width="0.8" fill="none">
<path d="M27.70 270.10 L517.00 270.10 M27.70 270.10 L27.70 342.90 L517.00 342.90"/>
<path d="M24.60 339.70 L27.70 339.70 M24.60 306.50 L27.70 306.50 M24.60 273.30 L27.70 273.30 M27.70 342.90 L27.70 346.00 M93.66 342.90 L93.66 346.00 M159.62 342.90 L159.62 346.00 M225.58 342.90 L225.58 346.00 M291.54 342.90 L291.54 346.00 M357.50 342.90 L357.50 346.00 M423.46 342.90 L423.46 346.00 M489.42 342.90 L489.42 346.00"/>
</g>
<g style="font-family:'DejaVu Sans',sans-serif" fill="#000" stroke="#000" stroke-width="0.3"><text transform="translate(21.40 343.30) scale(1 0.880)" text-anchor="end" style="font-size:10.50px">−1</text><text transform="translate(21.40 310.10) scale(1 0.880)" text-anchor="end" style="font-size:10.50px">0</text><text transform="translate(21.40 276.90) scale(1 0.880)" text-anchor="end" style="font-size:10.50px">1</text><text transform="translate(27.70 356.10) scale(1 0.880)" text-anchor="middle" style="font-size:10.50px">0</text><text transform="translate(93.66 356.10) scale(1 0.880)" text-anchor="middle" style="font-size:10.50px">2</text><text transform="translate(159.62 356.10) scale(1 0.880)" text-anchor="middle" style="font-size:10.50px">4</text><text transform="translate(225.58 356.10) scale(1 0.880)" text-anchor="middle" style="font-size:10.50px">6</text><text transform="translate(291.54 356.10) scale(1 0.880)" text-anchor="middle" style="font-size:10.50px">8</text><text transform="translate(357.50 356.10) scale(1 0.880)" text-anchor="middle" style="font-size:10.50px">10</text><text transform="translate(423.46 356.10) scale(1 0.880)" text-anchor="middle" style="font-size:10.50px">12</text><text transform="translate(489.42 356.10) scale(1 0.880)" text-anchor="middle" style="font-size:10.50px">14</text></g>
<rect x="427.00" y="273.10" width="86.00" height="18.00" rx="2" ry="2" fill="#fff" stroke="#cccccc" stroke-width="0.9"/>
<rect x="437.60" y="277.70" width="9.40" height="9.40" fill="#008000"/>
<g style="font-family:'DejaVu Sans',sans-serif" fill="#000" stroke="#000" stroke-width="0.3"><text transform="translate(461.20 286.00) scale(1 0.880)" style="font-size:10.50px">Van Gent</text></g>
<g stroke="#b0b0b0" stroke-width="0.75"><line x1="27.70" y1="357.80" x2="27.70" y2="430.60"/><line x1="93.66" y1="357.80" x2="93.66" y2="430.60"/><line x1="159.62" y1="357.80" x2="159.62" y2="430.60"/><line x1="225.58" y1="357.80" x2="225.58" y2="430.60"/><line x1="291.54" y1="357.80" x2="291.54" y2="430.60"/><line x1="357.50" y1="357.80" x2="357.50" y2="430.60"/><line x1="423.46" y1="357.80" x2="423.46" y2="430.60"/><line x1="489.42" y1="357.80" x2="489.42" y2="430.60"/><line x1="27.70" y1="427.40" x2="517.00" y2="427.40"/><line x1="27.70" y1="394.20" x2="517.00" y2="394.20"/><line x1="27.70" y1="361.00" x2="517.00" y2="361.00"/></g>
<g clip-path="url(#c4)">
<g stroke="#ff0000" stroke-width="1.4" stroke-dasharray="4.9 2.1"><line x1="41.40" y1="361.00" x2="41.40" y2="427.40"/><line x1="79.70" y1="361.00" x2="79.70" y2="427.40"/><line x1="112.30" y1="361.00" x2="112.30" y2="427.40"/><line x1="142.80" y1="361.00" x2="142.80" y2="427.40"/><line x1="182.40" y1="361.00" x2="182.40" y2="427.40"/><line x1="218.40" y1="361.00" x2="218.40" y2="427.40"/><line x1="249.40" y1="361.00" x2="249.40" y2="427.40"/><line x1="280.60" y1="361.00" x2="280.60" y2="427.40"/><line x1="319.00" y1="361.00" x2="319.00" y2="427.40"/><line x1="352.00" y1="361.00" x2="352.00" y2="427.40"/><line x1="382.60" y1="361.00" x2="382.60" y2="427.40"/><line x1="421.00" y1="361.00" x2="421.00" y2="427.40"/><line x1="456.40" y1="361.00" x2="456.40" y2="427.40"/><line x1="488.00" y1="361.00" x2="488.00" y2="427.40"/></g>
<path d="M27.70 401.50 L28.20 401.48 L28.70 401.43 L29.20 401.35 L29.70 401.24 L30.20 401.11 L30.70 400.83 L31.20 400.44 L31.70 399.98 L32.20 399.36 L32.70 398.63 L33.20 397.89 L33.70 397.13 L34.20 396.32 L34.70 395.44 L35.20 394.45 L35.70 393.29 L36.20 392.02 L36.70 390.68 L37.20 389.36 L37.70 388.04 L38.20 386.68 L38.70 385.20 L39.20 383.53 L39.70 381.51 L40.20 379.42 L40.70 377.45 L41.20 375.53 L41.70 375.47 L42.20 376.49 L42.70 378.12 L43.20 380.27 L43.70 384.31 L44.20 389.29 L44.70 394.12 L45.20 399.25 L45.70 404.09 L46.20 408.77 L46.70 413.03 L47.20 416.35 L47.70 419.32 L48.20 421.67 L48.70 422.91 L49.20 423.58 L49.70 424.00 L50.20 423.96 L50.70 422.80 L51.20 420.84 L51.70 418.64 L52.20 416.66 L52.70 414.41 L53.20 412.08 L53.70 410.05 L54.20 408.64 L54.70 407.49 L55.20 406.51 L55.70 405.78 L56.20 405.33 L56.70 404.98 L57.20 404.69 L57.70 404.52 L58.20 404.53 L58.70 404.90 L59.20 405.51 L59.70 406.16 L60.20 406.68 L60.70 407.24 L61.20 407.83 L61.70 408.38 L62.20 408.82 L62.70 409.09 L63.20 409.13 L63.70 408.98 L64.20 408.72 L64.70 408.37 L65.20 407.97 L65.70 407.33 L66.20 406.45 L66.70 405.40 L67.20 404.21 L67.70 402.94 L68.20 401.61 L68.70 399.95 L69.20 398.08 L69.70 396.22 L70.20 394.55 L70.70 392.98 L71.20 391.46 L71.70 390.03 L72.20 388.71 L72.70 387.48 L73.20 386.32 L73.70 385.20 L74.20 384.11 L74.70 383.03 L75.20 381.97 L75.70 380.93 L76.20 379.91 L76.70 378.89 L77.20 377.82 L77.70 376.53 L78.20 375.14 L78.70 373.82 L79.20 372.74 L79.70 372.08 L80.20 372.34 L80.70 375.28 L81.20 379.20 L81.70 384.31 L82.20 389.03 L82.70 393.51 L83.20 397.68 L83.70 401.32 L84.20 404.70 L84.70 407.66 L85.20 410.04 L85.70 412.16 L86.20 414.02 L86.70 415.48 L87.20 416.46 L87.70 417.28 L88.20 417.95 L88.70 418.36 L89.20 418.38 L89.70 417.82 L90.20 416.86 L90.70 415.75 L91.20 414.68 L91.70 413.32 L92.20 411.87 L92.70 410.63 L93.20 409.89 L93.70 409.30 L94.20 408.82 L94.70 408.53 L95.20 408.49 L95.70 408.66 L96.20 408.91 L96.70 409.10 L97.20 409.13 L97.70 408.98 L98.20 408.69 L98.70 408.32 L99.20 407.88 L99.70 407.42 L100.20 406.96 L100.70 406.43 L101.20 405.82 L101.70 405.14 L102.20 404.41 L102.70 403.64 L103.20 402.84 L103.70 401.95 L104.20 400.99 L104.70 399.97 L105.20 398.91 L105.70 397.83 L106.20 396.75 L106.70 395.63 L107.20 394.47 L107.70 393.29 L108.20 392.09 L108.70 390.91 L109.20 389.73 L109.70 388.34 L110.20 386.83 L110.70 385.36 L111.20 384.11 L111.70 383.24 L112.20 382.91 L112.70 383.69 L113.20 385.58 L113.70 387.90 L114.20 390.07 L114.70 392.45 L115.20 395.03 L115.70 397.65 L116.20 400.21 L116.70 402.95 L117.20 405.67 L117.70 408.04 L118.20 409.78 L118.70 411.39 L119.20 412.84 L119.70 413.92 L120.20 414.44 L120.70 414.35 L121.20 414.00 L121.70 413.48 L122.20 412.81 L122.70 411.55 L123.20 409.92 L123.70 408.29 L124.20 407.01 L124.70 405.88 L125.20 404.81 L125.70 403.81 L126.20 402.87 L126.70 401.99 L127.20 401.18 L127.70 400.38 L128.20 399.60 L128.70 398.88 L129.20 398.26 L129.70 397.75 L130.20 397.40 L130.70 397.14 L131.20 396.95 L131.70 396.78 L132.20 396.59 L132.70 396.36 L133.20 396.06 L133.70 395.64 L134.20 395.14 L134.70 394.56 L135.20 393.93 L135.70 393.27 L136.20 392.60 L136.70 391.86 L137.20 391.06 L137.70 390.21 L138.20 389.32 L138.70 388.39 L139.20 387.44 L139.70 386.48 L140.20 385.48 L140.70 384.21 L141.20 382.79 L141.70 381.46 L142.20 380.43 L142.70 379.94 L143.20 380.70 L143.70 383.38 L144.20 387.14 L144.70 391.10 L145.20 394.54 L145.70 398.21 L146.20 401.94 L146.70 405.24 L147.20 407.71 L147.70 409.82 L148.20 411.72 L148.70 413.41 L149.20 414.88 L149.70 416.13 L150.20 417.19 L150.70 418.21 L151.20 419.10 L151.70 419.66 L152.20 419.71 L152.70 419.20 L153.20 418.37 L153.70 417.52 L154.20 416.88 L154.70 416.36 L155.20 415.86 L155.70 415.39 L156.20 414.94 L156.70 414.51 L157.20 414.11 L157.70 413.73 L158.20 413.34 L158.70 412.95 L159.20 412.53 L159.70 412.09 L160.20 411.59 L160.70 411.05 L161.20 410.48 L161.70 409.87 L162.20 409.23 L162.70 408.57 L163.20 407.90 L163.70 407.22 L164.20 406.54 L164.70 405.85 L165.20 405.13 L165.70 404.40 L166.20 403.65 L166.70 402.89 L167.20 402.11 L167.70 401.32 L168.20 400.52 L168.70 399.70 L169.20 398.86 L169.70 398.00 L170.20 397.13 L170.70 396.24 L171.20 395.34 L171.70 394.42 L172.20 393.50 L172.70 392.56 L173.20 391.61 L173.70 390.65 L174.20 389.67 L174.70 388.66 L175.20 387.62 L175.70 386.56 L176.20 385.45 L176.70 384.27 L177.20 383.03 L177.70 381.75 L178.20 380.45 L178.70 379.15 L179.20 377.87 L179.70 376.65 L180.20 375.45 L180.70 374.07 L181.20 372.64 L181.70 371.39 L182.20 370.54 L182.70 370.40 L183.20 373.35 L183.70 378.24 L184.20 382.47 L184.70 386.40 L185.20 390.36 L185.70 394.25 L186.20 398.04 L186.70 401.98 L187.20 405.81 L187.70 409.17 L188.20 411.78 L188.70 414.26 L189.20 416.63 L189.70 418.71 L190.20 420.32 L190.70 421.26 L191.20 421.41 L191.70 421.27 L192.20 421.02 L192.70 420.69 L193.20 420.33 L193.70 419.96 L194.20 419.64 L194.70 419.31 L195.20 418.96 L195.70 418.60 L196.20 418.23 L196.70 417.84 L197.20 417.44 L197.70 417.03 L198.20 416.60 L198.70 416.15 L199.20 415.66 L199.70 415.16 L200.20 414.65 L200.70 414.13 L201.20 413.61 L201.70 413.09 L202.20 412.60 L202.70 412.14 L203.20 411.70 L203.70 411.28 L204.20 410.83 L204.70 410.36 L205.20 409.82 L205.70 409.22 L206.20 408.51 L206.70 407.63 L207.20 406.60 L207.70 405.43 L208.20 404.14 L208.70 402.75 L209.20 401.29 L209.70 399.77 L210.20 398.21 L210.70 396.42 L211.20 394.45 L211.70 392.36 L212.20 390.22 L212.70 388.12 L213.20 386.09 L213.70 383.98 L214.20 381.82 L214.70 379.70 L215.20 377.69 L215.70 375.89 L216.20 374.33 L216.70 372.72 L217.20 371.17 L217.70 369.90 L218.20 369.11 L218.70 369.28 L219.20 372.13 L219.70 376.44 L220.20 380.52 L220.70 384.97 L221.20 389.74 L221.70 394.36 L222.20 398.46 L222.70 402.61 L223.20 406.51 L223.70 409.59 L224.20 411.41 L224.70 412.84 L225.20 414.08 L225.70 415.03 L226.20 415.62 L226.70 415.77 L227.20 415.58 L227.70 415.18 L228.20 414.66 L228.70 414.11 L229.20 413.56 L229.70 412.82 L230.20 411.95 L230.70 411.08 L231.20 410.34 L231.70 409.89 L232.20 409.84 L232.70 410.20 L233.20 410.80 L233.70 411.46 L234.20 412.01 L234.70 412.65 L235.20 413.32 L235.70 413.92 L236.20 414.34 L236.70 414.44 L237.20 414.10 L237.70 413.38 L238.20 412.43 L238.70 411.40 L239.20 410.40 L239.70 409.31 L240.20 408.09 L240.70 406.74 L241.20 405.30 L241.70 403.78 L242.20 402.18 L242.70 400.41 L243.20 398.48 L243.70 396.44 L244.20 394.32 L244.70 392.17 L245.20 390.02 L245.70 387.82 L246.20 385.55 L246.70 383.22 L247.20 380.85 L247.70 378.41 L248.20 375.24 L248.70 372.10 L249.20 370.36 L249.70 370.80 L250.20 372.57 L250.70 375.10 L251.20 377.87 L251.70 380.59 L252.20 383.85 L252.70 387.48 L253.20 391.23 L253.70 394.85 L254.20 398.17 L254.70 401.64 L255.20 404.97 L255.70 407.68 L256.20 409.40 L256.70 410.81 L257.20 411.96 L257.70 412.66 L258.20 412.77 L258.70 412.54 L259.20 412.14 L259.70 411.63 L260.20 411.12 L260.70 410.67 L261.20 410.35 L261.70 410.05 L262.20 409.76 L262.70 409.49 L263.20 409.28 L263.70 409.16 L264.20 409.15 L264.70 409.28 L265.20 409.52 L265.70 409.84 L266.20 410.20 L266.70 410.58 L267.20 410.96 L267.70 411.44 L268.20 412.00 L268.70 412.59 L269.20 413.14 L269.70 413.59 L270.20 413.90 L270.70 414.17 L271.20 414.42 L271.70 414.62 L272.20 414.75 L272.70 414.77 L273.20 414.24 L273.70 413.12 L274.20 411.60 L274.70 409.87 L275.20 408.05 L275.70 405.69 L276.20 402.82 L276.70 399.60 L277.20 396.22 L277.70 392.76 L278.20 388.95 L278.70 384.87 L279.20 380.63 L279.70 376.14 L280.20 371.03 L280.70 366.38 L281.20 363.16 L281.70 361.33 L282.20 362.18 L282.70 364.28 L283.20 366.99 L283.70 369.79 L284.20 373.38 L284.70 377.64 L285.20 382.15 L285.70 386.52 L286.20 390.41 L286.70 394.29 L287.20 398.03 L287.70 401.27 L288.20 403.78 L288.70 406.15 L289.20 407.94 L289.70 408.45 L290.20 407.67 L290.70 406.12 L291.20 404.25 L291.70 402.50 L292.20 400.59 L292.70 398.49 L293.20 396.51 L293.70 394.91 L294.20 393.38 L294.70 392.09 L295.20 391.54 L295.70 392.76 L296.20 395.65 L296.70 399.04 L297.20 401.99 L297.70 405.31 L298.20 408.62 L298.70 411.08 L299.20 412.01 L299.70 412.36 L300.20 412.60 L300.70 412.87 L301.20 413.36 L301.70 414.23 L302.20 415.24 L302.70 416.13 L303.20 417.10 L303.70 418.03 L304.20 418.65 L304.70 418.73 L305.20 418.38 L305.70 417.76 L306.20 417.00 L306.70 416.21 L307.20 415.52 L307.70 414.88 L308.20 414.19 L308.70 413.38 L309.20 412.33 L309.70 410.81 L310.20 408.96 L310.70 406.98 L311.20 405.05 L311.70 403.03 L312.20 400.93 L312.70 398.80 L313.20 396.67 L313.70 394.55 L314.20 392.40 L314.70 390.22 L315.20 387.99 L315.70 385.68 L316.20 383.32 L316.70 380.95 L317.20 378.59 L317.70 376.29 L318.20 373.98 L318.70 371.22 L319.20 368.70 L319.70 367.35 L320.20 367.94 L320.70 370.16 L321.20 373.37 L321.70 376.91 L322.20 380.29 L322.70 384.27 L323.20 388.62 L323.70 392.74 L324.20 396.14 L324.70 399.21 L325.20 402.09 L325.70 404.77 L326.20 407.26 L326.70 409.54 L327.20 411.62 L327.70 413.68 L328.20 415.67 L328.70 417.49 L329.20 419.05 L329.70 420.25 L330.20 421.04 L330.70 421.70 L331.20 422.30 L331.70 422.80 L332.20 423.17 L332.70 423.38 L333.20 423.39 L333.70 423.12 L334.20 422.61 L334.70 421.93 L335.20 421.12 L335.70 420.27 L336.20 419.40 L336.70 418.31 L337.20 417.03 L337.70 415.63 L338.20 414.21 L338.70 412.67 L339.20 411.02 L339.70 409.30 L340.20 407.56 L340.70 405.83 L341.20 404.16 L341.70 402.50 L342.20 400.84 L342.70 399.18 L343.20 397.52 L343.70 395.86 L344.20 394.20 L344.70 392.54 L345.20 390.88 L345.70 389.22 L346.20 387.56 L346.70 385.90 L347.20 384.23 L347.70 382.48 L348.20 380.70 L348.70 378.94 L349.20 377.27 L349.70 375.75 L350.20 374.41 L350.70 373.00 L351.20 371.67 L351.70 370.68 L352.20 370.30 L352.70 372.83 L353.20 376.02 L353.70 378.54 L354.20 380.99 L354.70 383.56 L355.20 386.43 L355.70 389.64 L356.20 393.07 L356.70 396.69 L357.20 400.65 L357.70 404.21 L358.20 407.49 L358.70 409.39 L359.20 410.59 L359.70 411.44 L360.20 411.99 L360.70 412.44 L361.20 412.74 L361.70 412.78 L362.20 412.62 L362.70 412.34 L363.20 412.00 L363.70 411.65 L364.20 411.17 L364.70 410.61 L365.20 410.07 L365.70 409.64 L366.20 409.20 L366.70 408.76 L367.20 408.41 L367.70 408.18 L368.20 408.23 L368.70 408.98 L369.20 410.13 L369.70 411.29 L370.20 412.85 L370.70 414.17 L371.20 414.45 L371.70 414.45 L372.20 414.45 L372.70 414.49 L373.20 414.83 L373.70 415.31 L374.20 415.70 L374.70 415.38 L375.20 412.10 L375.70 408.22 L376.20 403.70 L376.70 401.13 L377.20 399.83 L377.70 398.82 L378.20 397.75 L378.70 396.82 L379.20 395.75 L379.70 394.04 L380.20 390.94 L380.70 386.52 L381.20 379.77 L381.70 373.60 L382.20 367.99 L382.70 365.24 L383.20 363.63 L383.70 362.45 L384.20 361.78 L384.70 361.71 L385.20 362.19 L385.70 363.20 L386.20 364.77 L386.70 368.02 L387.20 378.72 L387.70 390.92 L388.20 400.50 L388.70 406.36 L389.20 411.91 L389.70 416.47 L390.20 420.22 L390.70 422.52 L391.20 424.08 L391.70 423.94 L392.20 420.21 L392.70 416.26 L393.20 412.27 L393.70 410.28 L394.20 409.33 L394.70 409.57 L395.20 412.54 L395.70 414.08 L396.20 414.59 L396.70 414.88 L397.20 415.09 L397.70 415.25 L398.20 415.38 L398.70 415.49 L399.20 415.61 L399.70 415.71 L400.20 415.77 L400.70 415.76 L401.20 415.59 L401.70 415.30 L402.20 414.97 L402.70 414.67 L403.20 414.40 L403.70 414.06 L404.20 413.53 L404.70 412.53 L405.20 411.18 L405.70 409.68 L406.20 408.23 L406.70 406.69 L407.20 405.04 L407.70 403.32 L408.20 401.58 L408.70 399.86 L409.20 398.18 L409.70 396.45 L410.20 394.69 L410.70 392.95 L411.20 391.28 L411.70 389.73 L412.20 388.36 L412.70 387.10 L413.20 385.94 L413.70 384.84 L414.20 383.78 L414.70 382.73 L415.20 381.68 L415.70 380.60 L416.20 379.46 L416.70 378.28 L417.20 377.07 L417.70 375.86 L418.20 374.69 L418.70 373.58 L419.20 372.52 L419.70 371.34 L420.20 370.19 L420.70 369.31 L421.20 368.97 L421.70 370.46 L422.20 374.06 L422.70 378.45 L423.20 382.50 L423.70 386.88 L424.20 391.57 L424.70 396.22 L425.20 400.55 L425.70 404.86 L426.20 409.03 L426.70 412.81 L427.20 416.02 L427.70 419.08 L428.20 421.83 L428.70 423.93 L429.20 425.15 L429.70 426.05 L430.20 426.63 L430.70 426.71 L431.20 426.46 L431.70 426.03 L432.20 425.51 L432.70 424.65 L433.20 423.55 L433.70 422.39 L434.20 421.36 L434.70 420.36 L435.20 419.37 L435.70 418.37 L436.20 417.37 L436.70 416.38 L437.20 415.38 L437.70 414.40 L438.20 413.43 L438.70 412.46 L439.20 411.46 L439.70 410.44 L440.20 409.37 L440.70 408.29 L441.20 407.18 L441.70 406.03 L442.20 404.84 L442.70 403.60 L443.20 402.30 L443.70 400.87 L444.20 399.36 L444.70 397.80 L445.20 396.24 L445.70 394.73 L446.20 393.30 L446.70 391.83 L447.20 390.36 L447.70 388.93 L448.20 387.62 L448.70 386.48 L449.20 385.55 L449.70 384.76 L450.20 384.06 L450.70 383.42 L451.20 382.82 L451.70 382.25 L452.20 381.70 L452.70 381.23 L453.20 380.78 L453.70 380.28 L454.20 379.62 L454.70 378.57 L455.20 377.32 L455.70 376.18 L456.20 375.42 L456.70 375.46 L457.20 377.33 L457.70 380.63 L458.20 384.67 L458.70 388.73 L459.20 392.22 L459.70 395.74 L460.20 399.33 L460.70 402.83 L461.20 406.14 L461.70 409.54 L462.20 412.79 L462.70 415.53 L463.20 417.48 L463.70 419.22 L464.20 420.68 L464.70 421.59 L465.20 421.76 L465.70 421.76 L466.20 421.76 L466.70 421.76 L467.20 421.71 L467.70 421.29 L468.20 420.52 L468.70 419.52 L469.20 418.43 L469.70 417.35 L470.20 416.41 L470.70 415.47 L471.20 414.50 L471.70 413.50 L472.20 412.48 L472.70 411.45 L473.20 410.43 L473.70 409.41 L474.20 408.41 L474.70 407.41 L475.20 406.42 L475.70 405.42 L476.20 404.43 L476.70 403.43 L477.20 402.43 L477.70 401.44 L478.20 400.44 L478.70 399.48 L479.20 398.53 L479.70 397.58 L480.20 396.62 L480.70 395.64 L481.20 394.62 L481.70 393.55 L482.20 392.41 L482.70 391.19 L483.20 389.90 L483.70 388.56 L484.20 387.17 L484.70 385.76 L485.20 384.29 L485.70 382.44 L486.20 380.39 L486.70 378.44 L487.20 376.89 L487.70 376.03 L488.20 376.33 L488.70 378.37 L489.20 381.51 L489.70 384.97 L490.20 388.15 L490.70 391.67 L491.20 395.41 L491.70 398.96 L492.20 402.01 L492.70 404.94 L493.20 407.64 L493.70 409.84 L494.20 411.34 L494.70 412.63 L495.20 413.76 L495.70 414.62 L496.20 415.07 L496.70 415.03 L497.20 414.59 L497.70 413.88 L498.20 413.04 L498.70 412.22 L499.20 411.53 L499.70 410.82 L500.20 410.09 L500.70 409.36 L501.20 408.69 L501.70 408.10 L502.20 407.63 L502.70 407.17 L503.20 406.73 L503.70 406.34 L504.20 406.03 L504.70 405.85 L505.20 405.82 L505.70 405.82 L506.20 405.82 L506.70 405.82 L507.20 405.80 L507.70 405.57 L508.20 405.15 L508.70 404.58 L509.20 403.93 L509.70 403.24 L510.20 402.55 L510.70 401.73 L511.20 400.78 L511.70 399.73 L512.20 398.62 L512.70 397.51 L513.20 396.42 L513.70 395.28 L514.20 394.10 L514.70 392.91 L515.20 391.74 L515.70 390.51 L516.20 389.30 L516.70 388.17 L517.20 387.18 L517.70 386.27 L518.20 385.43 L518.70 384.65 L519.20 383.95" fill="none" stroke="#3058e6" stroke-width="2.3" stroke-linejoin="round" stroke-linecap="round"/>
<path d="M57.50 399.07 L61.30 404.57 L57.50 410.07 L53.70 404.57 Z" fill="#808000"/>
<path d="M94.60 403.07 L98.40 408.57 L94.60 414.07 L90.80 408.57 Z" fill="#808000"/>
<path d="M112.20 377.41 L116.00 382.91 L112.20 388.41 L108.40 382.91 Z" fill="#808000"/>
<path d="M142.80 374.42 L146.60 379.92 L142.80 385.42 L139.00 379.92 Z" fill="#808000"/>
<path d="M182.60 364.80 L186.40 370.30 L182.60 375.80 L178.80 370.30 Z" fill="#808000"/>
<path d="M218.50 363.47 L222.30 368.97 L218.50 374.47 L214.70 368.97 Z" fill="#808000"/>
<path d="M249.30 364.80 L253.10 370.30 L249.30 375.80 L245.50 370.30 Z" fill="#808000"/>
<path d="M281.70 355.83 L285.50 361.33 L281.70 366.83 L277.90 361.33 Z" fill="#808000"/>
<path d="M319.80 361.81 L323.60 367.31 L319.80 372.81 L316.00 367.31 Z" fill="#808000"/>
<path d="M352.20 364.80 L356.00 370.30 L352.20 375.80 L348.40 370.30 Z" fill="#808000"/>
<path d="M384.50 356.16 L388.30 361.66 L384.50 367.16 L380.70 361.66 Z" fill="#808000"/>
<path d="M421.20 363.47 L425.00 368.97 L421.20 374.47 L417.40 368.97 Z" fill="#808000"/>
<path d="M456.50 369.78 L460.30 375.28 L456.50 380.78 L452.70 375.28 Z" fill="#808000"/>
<path d="M487.90 370.44 L491.70 375.94 L487.90 381.44 L484.10 375.94 Z" fill="#808000"/>
<path d="M295.20 386.04 L299.00 391.54 L295.20 397.04 L291.40 391.54 Z" fill="#808000"/>
<path d="M519.50 378.08 L523.30 383.58 L519.50 389.08 L515.70 383.58 Z" fill="#808000"/>
</g>
<g stroke="#000" stroke-width="0.8" fill="none">
<path d="M27.70 357.80 L517.00 357.80 M27.70 357.80 L27.70 430.60 L517.00 430.60"/>
<path d="M24.60 427.40 L27.70 427.40 M24.60 394.20 L27.70 394.20 M24.60 361.00 L27.70 361.00 M27.70 430.60 L27.70 433.70 M93.66 430.60 L93.66 433.70 M159.62 430.60 L159.62 433.70 M225.58 430.60 L225.58 433.70 M291.54 430.60 L291.54 433.70 M357.50 430.60 L357.50 433.70 M423.46 430.60 L423.46 433.70 M489.42 430.60 L489.42 433.70"/>
</g>
<g style="font-family:'DejaVu Sans',sans-serif" fill="#000" stroke="#000" stroke-width="0.3"><text transform="translate(21.40 431.00) scale(1 0.880)" text-anchor="end" style="font-size:10.50px">−1</text><text transform="translate(21.40 397.80) scale(1 0.880)" text-anchor="end" style="font-size:10.50px">0</text><text transform="translate(21.40 364.60) scale(1 0.880)" text-anchor="end" style="font-size:10.50px">1</text><text transform="translate(27.70 443.80) scale(1 0.880)" text-anchor="middle" style="font-size:10.50px">0</text><text transform="translate(93.66 443.80) scale(1 0.880)" text-anchor="middle" style="font-size:10.50px">2</text><text transform="translate(159.62 443.80) scale(1 0.880)" text-anchor="middle" style="font-size:10.50px">4</text><text transform="translate(225.58 443.80) scale(1 0.880)" text-anchor="middle" style="font-size:10.50px">6</text><text transform="translate(291.54 443.80) scale(1 0.880)" text-anchor="middle" style="font-size:10.50px">8</text><text transform="translate(357.50 443.80) scale(1 0.880)" text-anchor="middle" style="font-size:10.50px">10</text><text transform="translate(423.46 443.80) scale(1 0.880)" text-anchor="middle" style="font-size:10.50px">12</text><text transform="translate(489.42 443.80) scale(1 0.880)" text-anchor="middle" style="font-size:10.50px">14</text></g>
<rect x="32.40" y="360.80" width="96.40" height="18.00" rx="2" ry="2" fill="#fff" stroke="#cccccc" stroke-width="0.9"/>
<path d="M47.70 364.60 L51.50 370.10 L47.70 375.60 L43.90 370.10 Z" fill="#808000"/>
<g style="font-family:'DejaVu Sans',sans-serif" fill="#000" stroke="#000" stroke-width="0.3"><text transform="translate(66.60 373.70) scale(1 0.880)" style="font-size:10.50px">Kuntamalla</text></g>
<g stroke="#b0b0b0" stroke-width="0.75"><line x1="27.70" y1="445.50" x2="27.70" y2="518.30"/><line x1="93.66" y1="445.50" x2="93.66" y2="518.30"/><line x1="159.62" y1="445.50" x2="159.62" y2="518.30"/><line x1="225.58" y1="445.50" x2="225.58" y2="518.30"/><line x1="291.54" y1="445.50" x2="291.54" y2="518.30"/><line x1="357.50" y1="445.50" x2="357.50" y2="518.30"/><line x1="423.46" y1="445.50" x2="423.46" y2="518.30"/><line x1="489.42" y1="445.50" x2="489.42" y2="518.30"/><line x1="27.70" y1="515.10" x2="517.00" y2="515.10"/><line x1="27.70" y1="481.90" x2="517.00" y2="481.90"/><line x1="27.70" y1="448.70" x2="517.00" y2="448.70"/></g>
<g clip-path="url(#c5)">
<g stroke="#ff0000" stroke-width="1.4" stroke-dasharray="4.9 2.1"><line x1="41.40" y1="448.70" x2="41.40" y2="515.10"/><line x1="79.70" y1="448.70" x2="79.70" y2="515.10"/><line x1="112.30" y1="448.70" x2="112.30" y2="515.10"/><line x1="142.80" y1="448.70" x2="142.80" y2="515.10"/><line x1="182.40" y1="448.70" x2="182.40" y2="515.10"/><line x1="218.40" y1="448.70" x2="218.40" y2="515.10"/><line x1="249.40" y1="448.70" x2="249.40" y2="515.10"/><line x1="280.60" y1="448.70" x2="280.60" y2="515.10"/><line x1="319.00" y1="448.70" x2="319.00" y2="515.10"/><line x1="352.00" y1="448.70" x2="352.00" y2="515.10"/><line x1="382.60" y1="448.70" x2="382.60" y2="515.10"/><line x1="421.00" y1="448.70" x2="421.00" y2="515.10"/><line x1="456.40" y1="448.70" x2="456.40" y2="515.10"/><line x1="488.00" y1="448.70" x2="488.00" y2="515.10"/></g>
<path d="M27.70 489.20 L28.20 489.18 L28.70 489.13 L29.20 489.05 L29.70 488.94 L30.20 488.81 L30.70 488.53 L31.20 488.14 L31.70 487.68 L32.20 487.06 L32.70 486.33 L33.20 485.59 L33.70 484.83 L34.20 484.02 L34.70 483.14 L35.20 482.15 L35.70 480.99 L36.20 479.72 L36.70 478.38 L37.20 477.06 L37.70 475.74 L38.20 474.38 L38.70 472.90 L39.20 471.23 L39.70 469.21 L40.20 467.12 L40.70 465.15 L41.20 463.23 L41.70 463.17 L42.20 464.19 L42.70 465.82 L43.20 467.97 L43.70 472.01 L44.20 476.99 L44.70 481.82 L45.20 486.95 L45.70 491.79 L46.20 496.47 L46.70 500.73 L47.20 504.05 L47.70 507.02 L48.20 509.37 L48.70 510.61 L49.20 511.28 L49.70 511.70 L50.20 511.66 L50.70 510.50 L51.20 508.54 L51.70 506.34 L52.20 504.36 L52.70 502.11 L53.20 499.78 L53.70 497.75 L54.20 496.34 L54.70 495.19 L55.20 494.21 L55.70 493.48 L56.20 493.03 L56.70 492.68 L57.20 492.39 L57.70 492.22 L58.20 492.23 L58.70 492.60 L59.20 493.21 L59.70 493.86 L60.20 494.38 L60.70 494.94 L61.20 495.53 L61.70 496.08 L62.20 496.52 L62.70 496.79 L63.20 496.83 L63.70 496.68 L64.20 496.42 L64.70 496.07 L65.20 495.67 L65.70 495.03 L66.20 494.15 L66.70 493.10 L67.20 491.91 L67.70 490.64 L68.20 489.31 L68.70 487.65 L69.20 485.78 L69.70 483.92 L70.20 482.25 L70.70 480.68 L71.20 479.16 L71.70 477.73 L72.20 476.41 L72.70 475.18 L73.20 474.02 L73.70 472.90 L74.20 471.81 L74.70 470.73 L75.20 469.67 L75.70 468.63 L76.20 467.61 L76.70 466.59 L77.20 465.52 L77.70 464.23 L78.20 462.84 L78.70 461.52 L79.20 460.44 L79.70 459.78 L80.20 460.04 L80.70 462.98 L81.20 466.90 L81.70 472.01 L82.20 476.73 L82.70 481.21 L83.20 485.38 L83.70 489.02 L84.20 492.40 L84.70 495.36 L85.20 497.74 L85.70 499.86 L86.20 501.72 L86.70 503.18 L87.20 504.16 L87.70 504.98 L88.20 505.65 L88.70 506.06 L89.20 506.08 L89.70 505.52 L90.20 504.56 L90.70 503.45 L91.20 502.38 L91.70 501.02 L92.20 499.57 L92.70 498.33 L93.20 497.59 L93.70 497.00 L94.20 496.52 L94.70 496.23 L95.20 496.19 L95.70 496.36 L96.20 496.61 L96.70 496.80 L97.20 496.83 L97.70 496.68 L98.20 496.39 L98.70 496.02 L99.20 495.58 L99.70 495.12 L100.20 494.66 L100.70 494.13 L101.20 493.52 L101.70 492.84 L102.20 492.11 L102.70 491.34 L103.20 490.54 L103.70 489.65 L104.20 488.69 L104.70 487.67 L105.20 486.61 L105.70 485.53 L106.20 484.45 L106.70 483.33 L107.20 482.17 L107.70 480.99 L108.20 479.79 L108.70 478.61 L109.20 477.43 L109.70 476.04 L110.20 474.53 L110.70 473.06 L111.20 471.81 L111.70 470.94 L112.20 470.61 L112.70 471.39 L113.20 473.28 L113.70 475.60 L114.20 477.77 L114.70 480.15 L115.20 482.73 L115.70 485.35 L116.20 487.91 L116.70 490.65 L117.20 493.37 L117.70 495.74 L118.20 497.48 L118.70 499.09 L119.20 500.54 L119.70 501.62 L120.20 502.14 L120.70 502.05 L121.20 501.70 L121.70 501.18 L122.20 500.51 L122.70 499.25 L123.20 497.62 L123.70 495.99 L124.20 494.71 L124.70 493.58 L125.20 492.51 L125.70 491.51 L126.20 490.57 L126.70 489.69 L127.20 488.88 L127.70 488.08 L128.20 487.30 L128.70 486.58 L129.20 485.96 L129.70 485.45 L130.20 485.10 L130.70 484.84 L131.20 484.65 L131.70 484.48 L132.20 484.29 L132.70 484.06 L133.20 483.76 L133.70 483.34 L134.20 482.84 L134.70 482.26 L135.20 481.63 L135.70 480.97 L136.20 480.30 L136.70 479.56 L137.20 478.76 L137.70 477.91 L138.20 477.02 L138.70 476.09 L139.20 475.14 L139.70 474.18 L140.20 473.18 L140.70 471.91 L141.20 470.49 L141.70 469.16 L142.20 468.13 L142.70 467.64 L143.20 468.40 L143.70 471.08 L144.20 474.84 L144.70 478.80 L145.20 482.24 L145.70 485.91 L146.20 489.64 L146.70 492.94 L147.20 495.41 L147.70 497.52 L148.20 499.42 L148.70 501.11 L149.20 502.58 L149.70 503.83 L150.20 504.89 L150.70 505.91 L151.20 506.80 L151.70 507.36 L152.20 507.41 L152.70 506.90 L153.20 506.07 L153.70 505.22 L154.20 504.58 L154.70 504.06 L155.20 503.56 L155.70 503.09 L156.20 502.64 L156.70 502.21 L157.20 501.81 L157.70 501.43 L158.20 501.04 L158.70 500.65 L159.20 500.23 L159.70 499.79 L160.20 499.29 L160.70 498.75 L161.20 498.18 L161.70 497.57 L162.20 496.93 L162.70 496.27 L163.20 495.60 L163.70 494.92 L164.20 494.24 L164.70 493.55 L165.20 492.83 L165.70 492.10 L166.20 491.35 L166.70 490.59 L167.20 489.81 L167.70 489.02 L168.20 488.22 L168.70 487.40 L169.20 486.56 L169.70 485.70 L170.20 484.83 L170.70 483.94 L171.20 483.04 L171.70 482.12 L172.20 481.20 L172.70 480.26 L173.20 479.31 L173.70 478.35 L174.20 477.37 L174.70 476.36 L175.20 475.32 L175.70 474.26 L176.20 473.15 L176.70 471.97 L177.20 470.73 L177.70 469.45 L178.20 468.15 L178.70 466.85 L179.20 465.57 L179.70 464.35 L180.20 463.15 L180.70 461.77 L181.20 460.34 L181.70 459.09 L182.20 458.24 L182.70 458.10 L183.20 461.05 L183.70 465.94 L184.20 470.17 L184.70 474.10 L185.20 478.06 L185.70 481.95 L186.20 485.74 L186.70 489.68 L187.20 493.51 L187.70 496.87 L188.20 499.48 L188.70 501.96 L189.20 504.33 L189.70 506.41 L190.20 508.02 L190.70 508.96 L191.20 509.11 L191.70 508.97 L192.20 508.72 L192.70 508.39 L193.20 508.03 L193.70 507.66 L194.20 507.34 L194.70 507.01 L195.20 506.66 L195.70 506.30 L196.20 505.93 L196.70 505.54 L197.20 505.14 L197.70 504.73 L198.20 504.30 L198.70 503.85 L199.20 503.36 L199.70 502.86 L200.20 502.35 L200.70 501.83 L201.20 501.31 L201.70 500.79 L202.20 500.30 L202.70 499.84 L203.20 499.40 L203.70 498.98 L204.20 498.53 L204.70 498.06 L205.20 497.52 L205.70 496.92 L206.20 496.21 L206.70 495.33 L207.20 494.30 L207.70 493.13 L208.20 491.84 L208.70 490.45 L209.20 488.99 L209.70 487.47 L210.20 485.91 L210.70 484.12 L211.20 482.15 L211.70 480.06 L212.20 477.92 L212.70 475.82 L213.20 473.79 L213.70 471.68 L214.20 469.52 L214.70 467.40 L215.20 465.39 L215.70 463.59 L216.20 462.03 L216.70 460.42 L217.20 458.87 L217.70 457.60 L218.20 456.81 L218.70 456.98 L219.20 459.83 L219.70 464.14 L220.20 468.22 L220.70 472.67 L221.20 477.44 L221.70 482.06 L222.20 486.16 L222.70 490.31 L223.20 494.21 L223.70 497.29 L224.20 499.11 L224.70 500.54 L225.20 501.78 L225.70 502.73 L226.20 503.32 L226.70 503.47 L227.20 503.28 L227.70 502.88 L228.20 502.36 L228.70 501.81 L229.20 501.26 L229.70 500.52 L230.20 499.65 L230.70 498.78 L231.20 498.04 L231.70 497.59 L232.20 497.54 L232.70 497.90 L233.20 498.50 L233.70 499.16 L234.20 499.71 L234.70 500.35 L235.20 501.02 L235.70 501.62 L236.20 502.04 L236.70 502.14 L237.20 501.80 L237.70 501.08 L238.20 500.13 L238.70 499.10 L239.20 498.10 L239.70 497.01 L240.20 495.79 L240.70 494.44 L241.20 493.00 L241.70 491.48 L242.20 489.88 L242.70 488.11 L243.20 486.18 L243.70 484.14 L244.20 482.02 L244.70 479.87 L245.20 477.72 L245.70 475.52 L246.20 473.25 L246.70 470.92 L247.20 468.55 L247.70 466.11 L248.20 462.94 L248.70 459.80 L249.20 458.06 L249.70 458.50 L250.20 460.27 L250.70 462.80 L251.20 465.57 L251.70 468.29 L252.20 471.55 L252.70 475.18 L253.20 478.93 L253.70 482.55 L254.20 485.87 L254.70 489.34 L255.20 492.67 L255.70 495.38 L256.20 497.10 L256.70 498.51 L257.20 499.66 L257.70 500.36 L258.20 500.47 L258.70 500.24 L259.20 499.84 L259.70 499.33 L260.20 498.82 L260.70 498.37 L261.20 498.05 L261.70 497.75 L262.20 497.46 L262.70 497.19 L263.20 496.98 L263.70 496.86 L264.20 496.85 L264.70 496.98 L265.20 497.22 L265.70 497.54 L266.20 497.90 L266.70 498.28 L267.20 498.66 L267.70 499.14 L268.20 499.70 L268.70 500.29 L269.20 500.84 L269.70 501.29 L270.20 501.60 L270.70 501.87 L271.20 502.12 L271.70 502.32 L272.20 502.45 L272.70 502.47 L273.20 501.94 L273.70 500.82 L274.20 499.30 L274.70 497.57 L275.20 495.75 L275.70 493.39 L276.20 490.52 L276.70 487.30 L277.20 483.92 L277.70 480.46 L278.20 476.65 L278.70 472.57 L279.20 468.33 L279.70 463.84 L280.20 458.73 L280.70 454.08 L281.20 450.86 L281.70 449.03 L282.20 449.88 L282.70 451.98 L283.20 454.69 L283.70 457.49 L284.20 461.08 L284.70 465.34 L285.20 469.85 L285.70 474.22 L286.20 478.11 L286.70 481.99 L287.20 485.73 L287.70 488.97 L288.20 491.48 L288.70 493.85 L289.20 495.64 L289.70 496.15 L290.20 495.37 L290.70 493.82 L291.20 491.95 L291.70 490.20 L292.20 488.29 L292.70 486.19 L293.20 484.21 L293.70 482.61 L294.20 481.08 L294.70 479.79 L295.20 479.24 L295.70 480.46 L296.20 483.35 L296.70 486.74 L297.20 489.69 L297.70 493.01 L298.20 496.32 L298.70 498.78 L299.20 499.71 L299.70 500.06 L300.20 500.30 L300.70 500.57 L301.20 501.06 L301.70 501.93 L302.20 502.94 L302.70 503.83 L303.20 504.80 L303.70 505.73 L304.20 506.35 L304.70 506.43 L305.20 506.08 L305.70 505.46 L306.20 504.70 L306.70 503.91 L307.20 503.22 L307.70 502.58 L308.20 501.89 L308.70 501.08 L309.20 500.03 L309.70 498.51 L310.20 496.66 L310.70 494.68 L311.20 492.75 L311.70 490.73 L312.20 488.63 L312.70 486.50 L313.20 484.37 L313.70 482.25 L314.20 480.10 L314.70 477.92 L315.20 475.69 L315.70 473.38 L316.20 471.02 L316.70 468.65 L317.20 466.29 L317.70 463.99 L318.20 461.68 L318.70 458.92 L319.20 456.40 L319.70 455.05 L320.20 455.64 L320.70 457.86 L321.20 461.07 L321.70 464.61 L322.20 467.99 L322.70 471.97 L323.20 476.32 L323.70 480.44 L324.20 483.84 L324.70 486.91 L325.20 489.79 L325.70 492.47 L326.20 494.96 L326.70 497.24 L327.20 499.32 L327.70 501.38 L328.20 503.37 L328.70 505.19 L329.20 506.75 L329.70 507.95 L330.20 508.74 L330.70 509.40 L331.20 510.00 L331.70 510.50 L332.20 510.87 L332.70 511.08 L333.20 511.09 L333.70 510.82 L334.20 510.31 L334.70 509.63 L335.20 508.82 L335.70 507.97 L336.20 507.10 L336.70 506.01 L337.20 504.73 L337.70 503.33 L338.20 501.91 L338.70 500.37 L339.20 498.72 L339.70 497.00 L340.20 495.26 L340.70 493.53 L341.20 491.86 L341.70 490.20 L342.20 488.54 L342.70 486.88 L343.20 485.22 L343.70 483.56 L344.20 481.90 L344.70 480.24 L345.20 478.58 L345.70 476.92 L346.20 475.26 L346.70 473.60 L347.20 471.93 L347.70 470.18 L348.20 468.40 L348.70 466.64 L349.20 464.97 L349.70 463.45 L350.20 462.11 L350.70 460.70 L351.20 459.37 L351.70 458.38 L352.20 458.00 L352.70 460.53 L353.20 463.72 L353.70 466.24 L354.20 468.69 L354.70 471.26 L355.20 474.13 L355.70 477.34 L356.20 480.77 L356.70 484.39 L357.20 488.35 L357.70 491.91 L358.20 495.19 L358.70 497.09 L359.20 498.29 L359.70 499.14 L360.20 499.69 L360.70 500.14 L361.20 500.44 L361.70 500.48 L362.20 500.32 L362.70 500.04 L363.20 499.70 L363.70 499.35 L364.20 498.87 L364.70 498.31 L365.20 497.77 L365.70 497.34 L366.20 496.90 L366.70 496.46 L367.20 496.11 L367.70 495.88 L368.20 495.93 L368.70 496.68 L369.20 497.83 L369.70 498.99 L370.20 500.55 L370.70 501.87 L371.20 502.15 L371.70 502.15 L372.20 502.15 L372.70 502.19 L373.20 502.53 L373.70 503.01 L374.20 503.40 L374.70 503.08 L375.20 499.80 L375.70 495.92 L376.20 491.40 L376.70 488.83 L377.20 487.53 L377.70 486.52 L378.20 485.45 L378.70 484.52 L379.20 483.45 L379.70 481.74 L380.20 478.64 L380.70 474.22 L381.20 467.47 L381.70 461.30 L382.20 455.69 L382.70 452.94 L383.20 451.33 L383.70 450.15 L384.20 449.48 L384.70 449.41 L385.20 449.89 L385.70 450.90 L386.20 452.47 L386.70 455.72 L387.20 466.42 L387.70 478.62 L388.20 488.20 L388.70 494.06 L389.20 499.61 L389.70 504.17 L390.20 507.92 L390.70 510.22 L391.20 511.78 L391.70 511.64 L392.20 507.91 L392.70 503.96 L393.20 499.97 L393.70 497.98 L394.20 497.03 L394.70 497.27 L395.20 500.24 L395.70 501.78 L396.20 502.29 L396.70 502.58 L397.20 502.79 L397.70 502.95 L398.20 503.08 L398.70 503.19 L399.20 503.31 L399.70 503.41 L400.20 503.47 L400.70 503.46 L401.20 503.29 L401.70 503.00 L402.20 502.67 L402.70 502.37 L403.20 502.10 L403.70 501.76 L404.20 501.23 L404.70 500.23 L405.20 498.88 L405.70 497.38 L406.20 495.93 L406.70 494.39 L407.20 492.74 L407.70 491.02 L408.20 489.28 L408.70 487.56 L409.20 485.88 L409.70 484.15 L410.20 482.39 L410.70 480.65 L411.20 478.98 L411.70 477.43 L412.20 476.06 L412.70 474.80 L413.20 473.64 L413.70 472.54 L414.20 471.48 L414.70 470.43 L415.20 469.38 L415.70 468.30 L416.20 467.16 L416.70 465.98 L417.20 464.77 L417.70 463.56 L418.20 462.39 L418.70 461.28 L419.20 460.22 L419.70 459.04 L420.20 457.89 L420.70 457.01 L421.20 456.67 L421.70 458.16 L422.20 461.76 L422.70 466.15 L423.20 470.20 L423.70 474.58 L424.20 479.27 L424.70 483.92 L425.20 488.25 L425.70 492.56 L426.20 496.73 L426.70 500.51 L427.20 503.72 L427.70 506.78 L428.20 509.53 L428.70 511.63 L429.20 512.85 L429.70 513.75 L430.20 514.33 L430.70 514.41 L431.20 514.16 L431.70 513.73 L432.20 513.21 L432.70 512.35 L433.20 511.25 L433.70 510.09 L434.20 509.06 L434.70 508.06 L435.20 507.07 L435.70 506.07 L436.20 505.07 L436.70 504.08 L437.20 503.08 L437.70 502.10 L438.20 501.13 L438.70 500.16 L439.20 499.16 L439.70 498.14 L440.20 497.07 L440.70 495.99 L441.20 494.88 L441.70 493.73 L442.20 492.54 L442.70 491.30 L443.20 490.00 L443.70 488.57 L444.20 487.06 L444.70 485.50 L445.20 483.94 L445.70 482.43 L446.20 481.00 L446.70 479.53 L447.20 478.06 L447.70 476.63 L448.20 475.32 L448.70 474.18 L449.20 473.25 L449.70 472.46 L450.20 471.76 L450.70 471.12 L451.20 470.52 L451.70 469.95 L452.20 469.40 L452.70 468.93 L453.20 468.48 L453.70 467.98 L454.20 467.32 L454.70 466.27 L455.20 465.02 L455.70 463.88 L456.20 463.12 L456.70 463.16 L457.20 465.03 L457.70 468.33 L458.20 472.37 L458.70 476.43 L459.20 479.92 L459.70 483.44 L460.20 487.03 L460.70 490.53 L461.20 493.84 L461.70 497.24 L462.20 500.49 L462.70 503.23 L463.20 505.18 L463.70 506.92 L464.20 508.38 L464.70 509.29 L465.20 509.46 L465.70 509.46 L466.20 509.46 L466.70 509.46 L467.20 509.41 L467.70 508.99 L468.20 508.22 L468.70 507.22 L469.20 506.13 L469.70 505.05 L470.20 504.11 L470.70 503.17 L471.20 502.20 L471.70 501.20 L472.20 500.18 L472.70 499.15 L473.20 498.13 L473.70 497.11 L474.20 496.11 L474.70 495.11 L475.20 494.12 L475.70 493.12 L476.20 492.13 L476.70 491.13 L477.20 490.13 L477.70 489.14 L478.20 488.14 L478.70 487.18 L479.20 486.23 L479.70 485.28 L480.20 484.32 L480.70 483.34 L481.20 482.32 L481.70 481.25 L482.20 480.11 L482.70 478.89 L483.20 477.60 L483.70 476.26 L484.20 474.87 L484.70 473.46 L485.20 471.99 L485.70 470.14 L486.20 468.09 L486.70 466.14 L487.20 464.59 L487.70 463.73 L488.20 464.03 L488.70 466.07 L489.20 469.21 L489.70 472.67 L490.20 475.85 L490.70 479.37 L491.20 483.11 L491.70 486.66 L492.20 489.71 L492.70 492.64 L493.20 495.34 L493.70 497.54 L494.20 499.04 L494.70 500.33 L495.20 501.46 L495.70 502.32 L496.20 502.77 L496.70 502.73 L497.20 502.29 L497.70 501.58 L498.20 500.74 L498.70 499.92 L499.20 499.23 L499.70 498.52 L500.20 497.79 L500.70 497.06 L501.20 496.39 L501.70 495.80 L502.20 495.33 L502.70 494.87 L503.20 494.43 L503.70 494.04 L504.20 493.73 L504.70 493.55 L505.20 493.52 L505.70 493.52 L506.20 493.52 L506.70 493.52 L507.20 493.50 L507.70 493.27 L508.20 492.85 L508.70 492.28 L509.20 491.63 L509.70 490.94 L510.20 490.25 L510.70 489.43 L511.20 488.48 L511.70 487.43 L512.20 486.32 L512.70 485.21 L513.20 484.12 L513.70 482.98 L514.20 481.80 L514.70 480.61 L515.20 479.44 L515.70 478.21 L516.20 477.00 L516.70 475.87 L517.20 474.88 L517.70 473.97 L518.20 473.13 L518.70 472.35 L519.20 471.65" fill="none" stroke="#3058e6" stroke-width="2.3" stroke-linejoin="round" stroke-linecap="round"/>
<path d="M41.70 457.37 L47.30 460.27 L47.30 466.07 L41.70 468.97 L36.10 466.07 L36.10 460.27 Z" fill="#ffff00"/>
<path d="M80.00 453.86 L85.60 456.76 L85.60 462.56 L80.00 465.46 L74.40 462.56 L74.40 456.76 Z" fill="#ffff00"/>
<path d="M112.20 464.81 L117.80 467.71 L117.80 473.51 L112.20 476.41 L106.60 473.51 L106.60 467.71 Z" fill="#ffff00"/>
<path d="M142.80 461.82 L148.40 464.72 L148.40 470.52 L142.80 473.42 L137.20 470.52 L137.20 464.72 Z" fill="#ffff00"/>
<path d="M182.60 452.20 L188.20 455.10 L188.20 460.90 L182.60 463.80 L177.00 460.90 L177.00 455.10 Z" fill="#ffff00"/>
<path d="M218.50 450.87 L224.10 453.77 L224.10 459.57 L218.50 462.47 L212.90 459.57 L212.90 453.77 Z" fill="#ffff00"/>
<path d="M249.30 452.20 L254.90 455.10 L254.90 460.90 L249.30 463.80 L243.70 460.90 L243.70 455.10 Z" fill="#ffff00"/>
<path d="M281.70 443.23 L287.30 446.13 L287.30 451.93 L281.70 454.83 L276.10 451.93 L276.10 446.13 Z" fill="#ffff00"/>
<path d="M319.80 449.21 L325.40 452.11 L325.40 457.91 L319.80 460.81 L314.20 457.91 L314.20 452.11 Z" fill="#ffff00"/>
<path d="M352.20 452.20 L357.80 455.10 L357.80 460.90 L352.20 463.80 L346.60 460.90 L346.60 455.10 Z" fill="#ffff00"/>
<path d="M384.50 443.56 L390.10 446.46 L390.10 452.26 L384.50 455.16 L378.90 452.26 L378.90 446.46 Z" fill="#ffff00"/>
<path d="M421.20 450.87 L426.80 453.77 L426.80 459.57 L421.20 462.47 L415.60 459.57 L415.60 453.77 Z" fill="#ffff00"/>
<path d="M456.50 457.18 L462.10 460.08 L462.10 465.88 L456.50 468.78 L450.90 465.88 L450.90 460.08 Z" fill="#ffff00"/>
<path d="M487.90 457.84 L493.50 460.74 L493.50 466.54 L487.90 469.44 L482.30 466.54 L482.30 460.74 Z" fill="#ffff00"/>
<path d="M295.20 473.44 L300.80 476.34 L300.80 482.14 L295.20 485.04 L289.60 482.14 L289.60 476.34 Z" fill="#ffff00"/>
<path d="M368.20 490.13 L373.80 493.03 L373.80 498.83 L368.20 501.73 L362.60 498.83 L362.60 493.03 Z" fill="#ffff00"/>
<path d="M519.50 465.48 L525.10 468.38 L525.10 474.18 L519.50 477.08 L513.90 474.18 L513.90 468.38 Z" fill="#ffff00"/>
</g>
<g stroke="#000" stroke-width="0.8" fill="none">
<path d="M27.70 445.50 L517.00 445.50 M27.70 445.50 L27.70 518.30 L517.00 518.30"/>
<path d="M24.60 515.10 L27.70 515.10 M24.60 481.90 L27.70 481.90 M24.60 448.70 L27.70 448.70 M27.70 518.30 L27.70 521.40 M93.66 518.30 L93.66 521.40 M159.62 518.30 L159.62 521.40 M225.58 518.30 L225.58 521.40 M291.54 518.30 L291.54 521.40 M357.50 518.30 L357.50 521.40 M423.46 518.30 L423.46 521.40 M489.42 518.30 L489.42 521.40"/>
</g>
<g style="font-family:'DejaVu Sans',sans-serif" fill="#000" stroke="#000" stroke-width="0.3"><text transform="translate(21.40 518.70) scale(1 0.880)" text-anchor="end" style="font-size:10.50px">−1</text><text transform="translate(21.40 485.50) scale(1 0.880)" text-anchor="end" style="font-size:10.50px">0</text><text transform="translate(21.40 452.30) scale(1 0.880)" text-anchor="end" style="font-size:10.50px">1</text><text transform="translate(27.70 531.50) scale(1 0.880)" text-anchor="middle" style="font-size:10.50px">0</text><text transform="translate(93.66 531.50) scale(1 0.880)" text-anchor="middle" style="font-size:10.50px">2</text><text transform="translate(159.62 531.50) scale(1 0.880)" text-anchor="middle" style="font-size:10.50px">4</text><text transform="translate(225.58 531.50) scale(1 0.880)" text-anchor="middle" style="font-size:10.50px">6</text><text transform="translate(291.54 531.50) scale(1 0.880)" text-anchor="middle" style="font-size:10.50px">8</text><text transform="translate(357.50 531.50) scale(1 0.880)" text-anchor="middle" style="font-size:10.50px">10</text><text transform="translate(423.46 531.50) scale(1 0.880)" text-anchor="middle" style="font-size:10.50px">12</text><text transform="translate(489.42 531.50) scale(1 0.880)" text-anchor="middle" style="font-size:10.50px">14</text></g>
<rect x="32.40" y="448.50" width="99.60" height="18.00" rx="2" ry="2" fill="#fff" stroke="#cccccc" stroke-width="0.9"/>
<path d="M47.70 452.00 L53.30 454.90 L53.30 460.70 L47.70 463.60 L42.10 460.70 L42.10 454.90 Z" fill="#ffff00"/>
<g style="font-family:'DejaVu Sans',sans-serif" fill="#000" stroke="#000" stroke-width="0.3"><text transform="translate(66.60 461.40) scale(1 0.880)" style="font-size:10.50px">Chakraborty</text></g>
<g style="font-family:'DejaVu Sans',sans-serif" fill="#000" stroke="#000" stroke-width="0.3"><text transform="translate(273.40 440.80) scale(1 0.880)" text-anchor="middle" style="font-size:12.60px">46</text><text transform="translate(273.60 543.60) scale(1 0.880)" text-anchor="middle" style="font-size:10.50px">Time (s)</text></g></svg>
</body></html>
